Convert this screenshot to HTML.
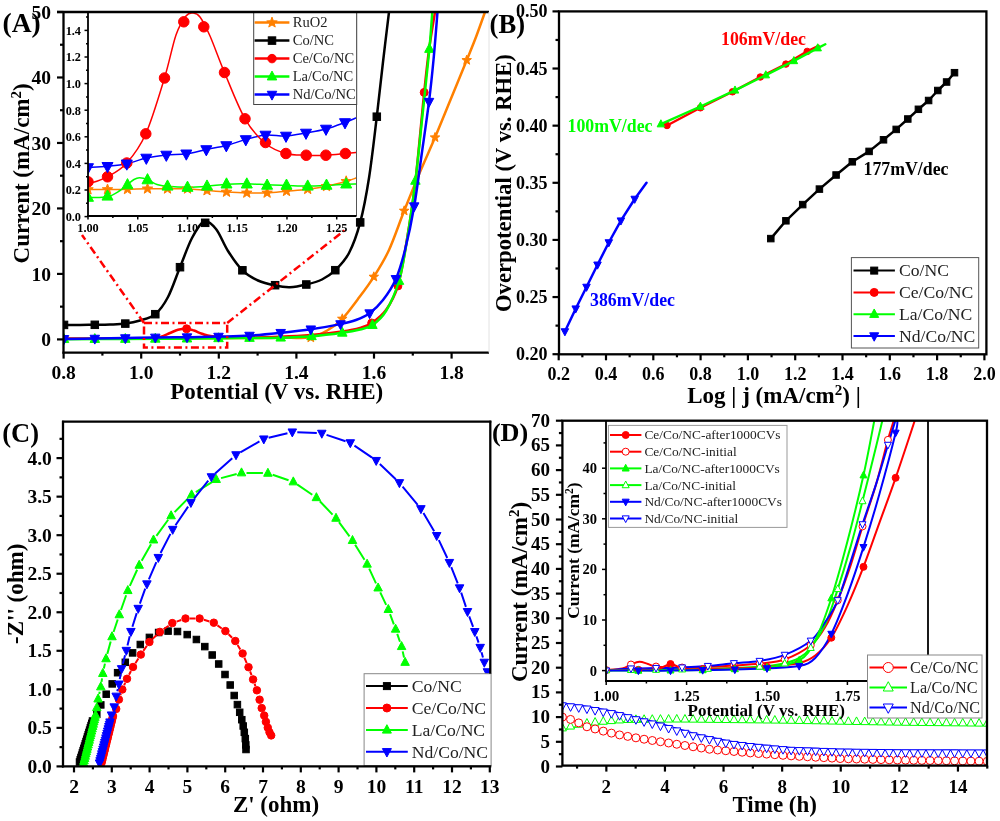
<!DOCTYPE html>
<html><head><meta charset="utf-8"><title>Figure</title>
<style>html,body{margin:0;padding:0;background:#fff;}svg{display:block;}</style>
</head><body>
<svg width="1000" height="821" viewBox="0 0 1000 821">
<rect width="1000" height="821" fill="#fff"/>
<defs><clipPath id="clipA"><rect x="63.5" y="12" width="425.5" height="340.6"/></clipPath>
<clipPath id="clipAi"><rect x="88" y="12" width="268" height="204"/></clipPath></defs>
<g clip-path="url(#clipA)">
<path d="M64,338.6 C73.33,338.57 100.67,338.47 120,338.4 C139.33,338.33 160,338.27 180,338.2 C200,338.13 223.33,338.07 240,338 C256.67,337.93 268.2,337.93 280,337.8 C291.8,337.67 302.8,338.5 310.8,337.2 C318.8,335.9 322.75,333.07 328,330 C333.25,326.93 337.3,323.97 342.3,318.8 C347.3,313.63 352.75,306 358,299 C363.25,292 368.63,284.97 373.8,276.8 C378.97,268.63 383.93,261 389,250 C394.07,239 399.03,223.8 404.2,210.8 C409.37,197.8 414.87,184.22 420,172 C425.13,159.78 430,149.33 435,137.5 C440,125.67 444.72,113.88 450,101 C455.28,88.12 462.37,70.87 466.7,60.2 C471.03,49.53 472.95,45.03 476,37 C479.05,28.97 483.5,16.17 485,12" fill="none" stroke="#ff8000" stroke-width="2.5" stroke-linejoin="round" stroke-linecap="round" />
<path d="M310.8,332.7 L312.03,336 L315.56,336.15 L312.8,338.35 L313.74,341.75 L310.8,339.8 L307.86,341.75 L308.8,338.35 L306.04,336.15 L309.57,336 Z" fill="#ff8000" stroke="#ff8000" stroke-width="1"/>
<path d="M342.3,313.8 L343.53,317.1 L347.06,317.25 L344.3,319.45 L345.24,322.85 L342.3,320.9 L339.36,322.85 L340.3,319.45 L337.54,317.25 L341.07,317.1 Z" fill="#ff8000" stroke="#ff8000" stroke-width="1"/>
<path d="M373.8,271.8 L375.03,275.1 L378.56,275.25 L375.8,277.45 L376.74,280.85 L373.8,278.9 L370.86,280.85 L371.8,277.45 L369.04,275.25 L372.57,275.1 Z" fill="#ff8000" stroke="#ff8000" stroke-width="1"/>
<path d="M404.2,205.8 L405.43,209.1 L408.96,209.25 L406.2,211.45 L407.14,214.85 L404.2,212.9 L401.26,214.85 L402.2,211.45 L399.44,209.25 L402.97,209.1 Z" fill="#ff8000" stroke="#ff8000" stroke-width="1"/>
<path d="M435,132.5 L436.23,135.8 L439.76,135.95 L437,138.15 L437.94,141.55 L435,139.6 L432.06,141.55 L433,138.15 L430.24,135.95 L433.77,135.8 Z" fill="#ff8000" stroke="#ff8000" stroke-width="1"/>
<path d="M466.7,55.2 L467.93,58.5 L471.46,58.65 L468.7,60.85 L469.64,64.25 L466.7,62.3 L463.76,64.25 L464.7,60.85 L461.94,58.65 L465.47,58.5 Z" fill="#ff8000" stroke="#ff8000" stroke-width="1"/>
<path d="M64,324.9 C66.67,324.9 74.87,324.92 80,324.9 C85.13,324.88 89.8,324.87 94.8,324.8 C99.8,324.73 104.92,324.7 110,324.5 C115.08,324.3 120.3,324.27 125.3,323.6 C130.3,322.93 135,322.07 140,320.5 C145,318.93 150.63,318.12 155.3,314.2 C159.97,310.28 163.88,304.83 168,297 C172.12,289.17 176,277.03 180,267.2 C184,257.37 188,245.62 192,238 C196,230.38 200,223 204,221.5 C208,220 212,224.08 216,229 C220,233.92 223.6,244.12 228,251 C232.4,257.88 237.4,265.38 242.4,270.3 C247.4,275.22 252.55,277.97 258,280.5 C263.45,283.03 269.77,284.38 275.1,285.5 C280.43,286.62 284.8,287.37 290,287.2 C295.2,287.03 300.97,285.78 306.3,284.5 C311.63,283.22 317.17,281.88 322,279.5 C326.83,277.12 330.8,274.62 335.3,270.2 C339.8,265.78 344.85,260.97 349,253 C353.15,245.03 356.87,234.9 360.2,222.4 C363.53,209.9 366.23,195.62 369,178 C371.77,160.38 374.47,136.03 376.8,116.7 C379.13,97.37 380.97,79.45 383,62 C385.03,44.55 388,20.33 389,12" fill="none" stroke="#000000" stroke-width="2.5" stroke-linejoin="round" stroke-linecap="round" />
<rect x="60.25" y="321.15" width="7.5" height="7.5" fill="#000000" stroke="#000000" stroke-width="1"/>
<rect x="91.05" y="321.05" width="7.5" height="7.5" fill="#000000" stroke="#000000" stroke-width="1"/>
<rect x="121.55" y="319.85" width="7.5" height="7.5" fill="#000000" stroke="#000000" stroke-width="1"/>
<rect x="151.55" y="310.45" width="7.5" height="7.5" fill="#000000" stroke="#000000" stroke-width="1"/>
<rect x="176.25" y="263.45" width="7.5" height="7.5" fill="#000000" stroke="#000000" stroke-width="1"/>
<rect x="201.45" y="219.05" width="7.5" height="7.5" fill="#000000" stroke="#000000" stroke-width="1"/>
<rect x="238.65" y="266.55" width="7.5" height="7.5" fill="#000000" stroke="#000000" stroke-width="1"/>
<rect x="271.35" y="281.45" width="7.5" height="7.5" fill="#000000" stroke="#000000" stroke-width="1"/>
<rect x="302.55" y="280.75" width="7.5" height="7.5" fill="#000000" stroke="#000000" stroke-width="1"/>
<rect x="331.55" y="266.45" width="7.5" height="7.5" fill="#000000" stroke="#000000" stroke-width="1"/>
<rect x="356.45" y="218.65" width="7.5" height="7.5" fill="#000000" stroke="#000000" stroke-width="1"/>
<rect x="373.05" y="112.95" width="7.5" height="7.5" fill="#000000" stroke="#000000" stroke-width="1"/>
<path d="M64,338.8 C73.33,338.77 105.67,338.68 120,338.6 C134.33,338.52 143.33,338.57 150,338.3 C156.67,338.03 156.67,337.88 160,337 C163.33,336.12 167,334.2 170,333 C173,331.8 175.23,330.5 178,329.8 C180.77,329.1 183.93,328.68 186.6,328.8 C189.27,328.92 191.43,329.67 194,330.5 C196.57,331.33 199,332.83 202,333.8 C205,334.77 205.67,335.68 212,336.3 C218.33,336.92 228.67,337.43 240,337.5 C251.33,337.57 268.17,337.12 280,336.7 C291.83,336.28 300.67,335.87 311,335 C321.33,334.13 333.83,332.67 342,331.5 C350.17,330.33 355.05,329.42 360,328 C364.95,326.58 367.37,326 371.7,323 C376.03,320 381.63,316.18 386,310 C390.37,303.82 394.57,296.73 397.9,285.9 C401.23,275.07 403.15,261.82 406,245 C408.85,228.18 411.97,210.43 415,185 C418.03,159.57 421.87,114.9 424.2,92.4 C426.53,69.9 427.2,63.4 429,50 C430.8,36.6 434,18.33 435,12" fill="none" stroke="#ff0000" stroke-width="2.5" stroke-linejoin="round" stroke-linecap="round" />
<circle cx="186.6" cy="328.8" r="4" fill="#ff0000" stroke="#ff0000" stroke-width="1"/>
<circle cx="371.7" cy="323" r="4" fill="#ff0000" stroke="#ff0000" stroke-width="1"/>
<circle cx="397.9" cy="285.9" r="4" fill="#ff0000" stroke="#ff0000" stroke-width="1"/>
<circle cx="424.2" cy="92.4" r="4" fill="#ff0000" stroke="#ff0000" stroke-width="1"/>
<path d="M64,339.2 C73.33,339.17 100.67,339.08 120,339 C139.33,338.92 160,338.87 180,338.7 C200,338.53 223.22,338.17 240,338 C256.78,337.83 268.78,337.98 280.7,337.7 C292.62,337.42 301.23,337.12 311.5,336.3 C321.77,335.48 334.22,333.93 342.3,332.8 C350.38,331.67 354.98,330.78 360,329.5 C365.02,328.22 368.07,328.18 372.4,325.1 C376.73,322.02 381.57,318.35 386,311 C390.43,303.65 395.5,292.83 399,281 C402.5,269.17 404.27,256.68 407,240 C409.73,223.32 412.82,201.73 415.4,180.9 C417.98,160.07 420.17,136.98 422.5,115 C424.83,93.02 427.77,66.17 429.4,49 C431.03,31.83 431.82,18.17 432.3,12" fill="none" stroke="#00ff00" stroke-width="2.5" stroke-linejoin="round" stroke-linecap="round" />
<path d="M64,333.69 L68.75,342.56 L59.25,342.56 Z" fill="#00ff00" stroke="#00ff00" stroke-width="1"/>
<path d="M94.8,333.59 L99.55,342.46 L90.05,342.46 Z" fill="#00ff00" stroke="#00ff00" stroke-width="1"/>
<path d="M125.3,333.49 L130.05,342.36 L120.55,342.36 Z" fill="#00ff00" stroke="#00ff00" stroke-width="1"/>
<path d="M155.3,333.29 L160.05,342.16 L150.55,342.16 Z" fill="#00ff00" stroke="#00ff00" stroke-width="1"/>
<path d="M187,333.09 L191.75,341.96 L182.25,341.96 Z" fill="#00ff00" stroke="#00ff00" stroke-width="1"/>
<path d="M218.5,332.79 L223.25,341.66 L213.75,341.66 Z" fill="#00ff00" stroke="#00ff00" stroke-width="1"/>
<path d="M249.5,332.49 L254.25,341.36 L244.75,341.36 Z" fill="#00ff00" stroke="#00ff00" stroke-width="1"/>
<path d="M280.7,332.19 L285.45,341.06 L275.95,341.06 Z" fill="#00ff00" stroke="#00ff00" stroke-width="1"/>
<path d="M311.5,330.79 L316.25,339.66 L306.75,339.66 Z" fill="#00ff00" stroke="#00ff00" stroke-width="1"/>
<path d="M342.3,327.29 L347.05,336.16 L337.55,336.16 Z" fill="#00ff00" stroke="#00ff00" stroke-width="1"/>
<path d="M372.4,319.59 L377.15,328.46 L367.65,328.46 Z" fill="#00ff00" stroke="#00ff00" stroke-width="1"/>
<path d="M399,275.49 L403.75,284.36 L394.25,284.36 Z" fill="#00ff00" stroke="#00ff00" stroke-width="1"/>
<path d="M415.4,175.39 L420.15,184.25 L410.65,184.25 Z" fill="#00ff00" stroke="#00ff00" stroke-width="1"/>
<path d="M429.4,43.49 L434.15,52.36 L424.65,52.36 Z" fill="#00ff00" stroke="#00ff00" stroke-width="1"/>
<path d="M64,338.9 C69.13,338.85 84.58,338.73 94.8,338.6 C105.02,338.47 115.22,338.28 125.3,338.1 C135.38,337.92 145.02,337.65 155.3,337.5 C165.58,337.35 176.47,337.35 187,337.2 C197.53,337.05 208.08,336.87 218.5,336.6 C228.92,336.33 239.13,336.23 249.5,335.6 C259.87,334.97 270.48,333.85 280.7,332.8 C290.92,331.75 300.83,330.75 310.8,329.3 C320.77,327.85 332.97,325.65 340.5,324.1 C348.03,322.55 351.15,321.82 356,320 C360.85,318.18 365.1,316.53 369.6,313.2 C374.1,309.87 378.62,305.72 383,300 C387.38,294.28 392.23,287.23 395.9,278.9 C399.57,270.57 401.95,262.12 405,250 C408.05,237.88 411.37,222.53 414.2,206.2 C417.03,189.87 419.53,169.42 422,152 C424.47,134.58 427.08,117.03 429,101.7 C430.92,86.37 432.08,74.95 433.5,60 C434.92,45.05 436.83,20 437.5,12" fill="none" stroke="#0000ff" stroke-width="2.5" stroke-linejoin="round" stroke-linecap="round" />
<path d="M64,344.41 L68.75,335.54 L59.25,335.54 Z" fill="#0000ff" stroke="#0000ff" stroke-width="1"/>
<path d="M94.8,344.11 L99.55,335.25 L90.05,335.25 Z" fill="#0000ff" stroke="#0000ff" stroke-width="1"/>
<path d="M125.3,343.61 L130.05,334.75 L120.55,334.75 Z" fill="#0000ff" stroke="#0000ff" stroke-width="1"/>
<path d="M155.3,343.01 L160.05,334.14 L150.55,334.14 Z" fill="#0000ff" stroke="#0000ff" stroke-width="1"/>
<path d="M187,342.71 L191.75,333.84 L182.25,333.84 Z" fill="#0000ff" stroke="#0000ff" stroke-width="1"/>
<path d="M218.5,342.11 L223.25,333.25 L213.75,333.25 Z" fill="#0000ff" stroke="#0000ff" stroke-width="1"/>
<path d="M249.5,341.11 L254.25,332.25 L244.75,332.25 Z" fill="#0000ff" stroke="#0000ff" stroke-width="1"/>
<path d="M280.7,338.31 L285.45,329.44 L275.95,329.44 Z" fill="#0000ff" stroke="#0000ff" stroke-width="1"/>
<path d="M310.8,334.81 L315.55,325.94 L306.05,325.94 Z" fill="#0000ff" stroke="#0000ff" stroke-width="1"/>
<path d="M340.5,329.61 L345.25,320.75 L335.75,320.75 Z" fill="#0000ff" stroke="#0000ff" stroke-width="1"/>
<path d="M369.6,318.71 L374.35,309.84 L364.85,309.84 Z" fill="#0000ff" stroke="#0000ff" stroke-width="1"/>
<path d="M395.9,284.41 L400.65,275.54 L391.15,275.54 Z" fill="#0000ff" stroke="#0000ff" stroke-width="1"/>
<path d="M414.2,211.71 L418.95,202.84 L409.45,202.84 Z" fill="#0000ff" stroke="#0000ff" stroke-width="1"/>
<path d="M429,107.21 L433.75,98.35 L424.25,98.35 Z" fill="#0000ff" stroke="#0000ff" stroke-width="1"/>
</g>
<path d="M144,323 L227.2,323 L227.2,347.5 L144,347.5 Z" fill="none" stroke="#ff0000" stroke-width="2.5" stroke-dasharray="8,3.5,2,3.5"/>
<path d="M144,323 L82,235" fill="none" stroke="#ff0000" stroke-width="2.5" stroke-dasharray="8,3.5,2,3.5"/>
<path d="M227.2,323 L345,230" fill="none" stroke="#ff0000" stroke-width="2.5" stroke-dasharray="8,3.5,2,3.5"/>
<rect x="88" y="12" width="268" height="204" fill="#fff"/>
<g clip-path="url(#clipAi)">
<path d="M88,189.5 C91.25,189.5 100.92,189.53 107.5,189.5 C114.08,189.47 120.83,189.42 127.5,189.3 C134.17,189.18 140.83,188.88 147.5,188.8 C154.17,188.72 160.83,188.8 167.5,188.8 C174.17,188.8 180.92,188.52 187.5,188.8 C194.08,189.08 200.5,189.97 207,190.5 C213.5,191.03 219.87,191.6 226.5,192 C233.13,192.4 240.03,192.75 246.8,192.9 C253.57,193.05 260.48,193.18 267.1,192.9 C273.72,192.62 279.73,191.82 286.5,191.2 C293.27,190.58 301.03,190.02 307.7,189.2 C314.37,188.38 320.08,187.62 326.5,186.3 C332.92,184.98 341.28,182.68 346.2,181.3 C351.12,179.92 354.37,178.55 356,178" fill="none" stroke="#ff8000" stroke-width="1.5" stroke-linejoin="round" stroke-linecap="round" />
<path d="M88,197.5 C91.25,197.38 102.17,197.97 107.5,196.8 C112.83,195.63 116.67,192.55 120,190.5 C123.33,188.45 125.17,186.33 127.5,184.5 C129.83,182.67 132,180.62 134,179.5 C136,178.38 137.25,177.8 139.5,177.8 C141.75,177.8 144.58,178.38 147.5,179.5 C150.42,180.62 153.67,183.37 157,184.5 C160.33,185.63 162.42,185.83 167.5,186.3 C172.58,186.77 180.92,187.3 187.5,187.3 C194.08,187.3 200.5,186.82 207,186.3 C213.5,185.78 219.87,184.62 226.5,184.2 C233.13,183.78 240.03,183.7 246.8,183.8 C253.57,183.9 260.48,184.53 267.1,184.8 C273.72,185.07 279.73,185.2 286.5,185.4 C293.27,185.6 301.03,186 307.7,186 C314.37,186 320.08,185.7 326.5,185.4 C332.92,185.1 341.28,184.43 346.2,184.2 C351.12,183.97 354.37,184.03 356,184" fill="none" stroke="#00ff00" stroke-width="1.5" stroke-linejoin="round" stroke-linecap="round" />
<path d="M88,167.5 C91.25,167.3 101.03,166.92 107.5,166.3 C113.97,165.68 120.33,165.18 126.8,163.8 C133.27,162.42 139.72,159.47 146.3,158 C152.88,156.53 159.63,155.7 166.3,155 C172.97,154.3 179.63,154.72 186.3,153.8 C192.97,152.88 199.63,150.88 206.3,149.5 C212.97,148.12 219.72,147.17 226.3,145.5 C232.88,143.83 239.27,141.25 245.8,139.5 C252.33,137.75 258.8,135.58 265.5,135 C272.2,134.42 279.25,136.33 286,136 C292.75,135.67 299.33,134.17 306,133 C312.67,131.83 319.5,130.75 326,129 C332.5,127.25 340,124.33 345,122.5 C350,120.67 354.17,118.75 356,118" fill="none" stroke="#0000ff" stroke-width="1.5" stroke-linejoin="round" stroke-linecap="round" />
<path d="M88,184 C91.25,182.8 101.03,180.3 107.5,176.8 C113.97,173.3 120.42,170.17 126.8,163 C133.18,155.83 139.52,147.97 145.8,133.8 C152.08,119.63 159.47,94.47 164.5,78 C169.53,61.53 172.42,45.33 176,35 C179.58,24.67 183.17,19.67 186,16 C188.83,12.33 190.67,12.83 193,13 C195.33,13.17 197.17,13.17 200,17 C202.83,20.83 205.92,26.75 210,36 C214.08,45.25 218.67,58.7 224.5,72.5 C230.33,86.3 238.17,106.97 245,118.8 C251.83,130.63 258.68,137.72 265.5,143.5 C272.32,149.28 279.12,151.55 285.9,153.5 C292.68,155.45 299.53,154.92 306.2,155.2 C312.87,155.48 319.37,155.48 325.9,155.2 C332.43,154.92 340.38,153.95 345.4,153.5 C350.42,153.05 354.23,152.67 356,152.5" fill="none" stroke="#ff0000" stroke-width="1.5" stroke-linejoin="round" stroke-linecap="round" />
<path d="M88,184 L89.36,187.63 L93.23,187.8 L90.2,190.21 L91.23,193.95 L88,191.81 L84.77,193.95 L85.8,190.21 L82.77,187.8 L86.64,187.63 Z" fill="#ff8000" stroke="#ff8000" stroke-width="1"/>
<path d="M107.5,184 L108.86,187.63 L112.73,187.8 L109.7,190.21 L110.73,193.95 L107.5,191.81 L104.27,193.95 L105.3,190.21 L102.27,187.8 L106.14,187.63 Z" fill="#ff8000" stroke="#ff8000" stroke-width="1"/>
<path d="M127.5,183.8 L128.86,187.43 L132.73,187.6 L129.7,190.01 L130.73,193.75 L127.5,191.61 L124.27,193.75 L125.3,190.01 L122.27,187.6 L126.14,187.43 Z" fill="#ff8000" stroke="#ff8000" stroke-width="1"/>
<path d="M147.5,183.3 L148.86,186.93 L152.73,187.1 L149.7,189.51 L150.73,193.25 L147.5,191.11 L144.27,193.25 L145.3,189.51 L142.27,187.1 L146.14,186.93 Z" fill="#ff8000" stroke="#ff8000" stroke-width="1"/>
<path d="M167.5,183.3 L168.86,186.93 L172.73,187.1 L169.7,189.51 L170.73,193.25 L167.5,191.11 L164.27,193.25 L165.3,189.51 L162.27,187.1 L166.14,186.93 Z" fill="#ff8000" stroke="#ff8000" stroke-width="1"/>
<path d="M187.5,183.3 L188.86,186.93 L192.73,187.1 L189.7,189.51 L190.73,193.25 L187.5,191.11 L184.27,193.25 L185.3,189.51 L182.27,187.1 L186.14,186.93 Z" fill="#ff8000" stroke="#ff8000" stroke-width="1"/>
<path d="M207,185 L208.36,188.63 L212.23,188.8 L209.2,191.21 L210.23,194.95 L207,192.81 L203.77,194.95 L204.8,191.21 L201.77,188.8 L205.64,188.63 Z" fill="#ff8000" stroke="#ff8000" stroke-width="1"/>
<path d="M226.5,186.5 L227.86,190.13 L231.73,190.3 L228.7,192.71 L229.73,196.45 L226.5,194.31 L223.27,196.45 L224.3,192.71 L221.27,190.3 L225.14,190.13 Z" fill="#ff8000" stroke="#ff8000" stroke-width="1"/>
<path d="M246.8,187.4 L248.16,191.03 L252.03,191.2 L249,193.61 L250.03,197.35 L246.8,195.21 L243.57,197.35 L244.6,193.61 L241.57,191.2 L245.44,191.03 Z" fill="#ff8000" stroke="#ff8000" stroke-width="1"/>
<path d="M267.1,187.4 L268.46,191.03 L272.33,191.2 L269.3,193.61 L270.33,197.35 L267.1,195.21 L263.87,197.35 L264.9,193.61 L261.87,191.2 L265.74,191.03 Z" fill="#ff8000" stroke="#ff8000" stroke-width="1"/>
<path d="M286.5,185.7 L287.86,189.33 L291.73,189.5 L288.7,191.91 L289.73,195.65 L286.5,193.51 L283.27,195.65 L284.3,191.91 L281.27,189.5 L285.14,189.33 Z" fill="#ff8000" stroke="#ff8000" stroke-width="1"/>
<path d="M307.7,183.7 L309.06,187.33 L312.93,187.5 L309.9,189.91 L310.93,193.65 L307.7,191.51 L304.47,193.65 L305.5,189.91 L302.47,187.5 L306.34,187.33 Z" fill="#ff8000" stroke="#ff8000" stroke-width="1"/>
<path d="M326.5,180.8 L327.86,184.43 L331.73,184.6 L328.7,187.01 L329.73,190.75 L326.5,188.61 L323.27,190.75 L324.3,187.01 L321.27,184.6 L325.14,184.43 Z" fill="#ff8000" stroke="#ff8000" stroke-width="1"/>
<path d="M346.2,175.8 L347.56,179.43 L351.43,179.6 L348.4,182.01 L349.43,185.75 L346.2,183.61 L342.97,185.75 L344,182.01 L340.97,179.6 L344.84,179.43 Z" fill="#ff8000" stroke="#ff8000" stroke-width="1"/>
<path d="M88,191.12 L93.5,201.29 L82.5,201.29 Z" fill="#00ff00" stroke="#00ff00" stroke-width="1"/>
<path d="M107.5,189.92 L113,200.09 L102,200.09 Z" fill="#00ff00" stroke="#00ff00" stroke-width="1"/>
<path d="M127.5,178.62 L133,188.79 L122,188.79 Z" fill="#00ff00" stroke="#00ff00" stroke-width="1"/>
<path d="M147.5,173.62 L153,183.79 L142,183.79 Z" fill="#00ff00" stroke="#00ff00" stroke-width="1"/>
<path d="M167.5,179.92 L173,190.09 L162,190.09 Z" fill="#00ff00" stroke="#00ff00" stroke-width="1"/>
<path d="M187.5,181.12 L193,191.29 L182,191.29 Z" fill="#00ff00" stroke="#00ff00" stroke-width="1"/>
<path d="M207,179.92 L212.5,190.09 L201.5,190.09 Z" fill="#00ff00" stroke="#00ff00" stroke-width="1"/>
<path d="M226.5,177.82 L232,187.99 L221,187.99 Z" fill="#00ff00" stroke="#00ff00" stroke-width="1"/>
<path d="M246.8,177.82 L252.3,187.99 L241.3,187.99 Z" fill="#00ff00" stroke="#00ff00" stroke-width="1"/>
<path d="M267.1,179.02 L272.6,189.19 L261.6,189.19 Z" fill="#00ff00" stroke="#00ff00" stroke-width="1"/>
<path d="M286.5,179.02 L292,189.19 L281,189.19 Z" fill="#00ff00" stroke="#00ff00" stroke-width="1"/>
<path d="M307.7,179.92 L313.2,190.09 L302.2,190.09 Z" fill="#00ff00" stroke="#00ff00" stroke-width="1"/>
<path d="M326.5,179.02 L332,189.19 L321,189.19 Z" fill="#00ff00" stroke="#00ff00" stroke-width="1"/>
<path d="M346.2,177.82 L351.7,187.99 L340.7,187.99 Z" fill="#00ff00" stroke="#00ff00" stroke-width="1"/>
<circle cx="88" cy="181.8" r="5.25" fill="#ff0000" stroke="#ff0000" stroke-width="1"/>
<circle cx="107.5" cy="176.8" r="5.25" fill="#ff0000" stroke="#ff0000" stroke-width="1"/>
<circle cx="126.8" cy="163" r="5.25" fill="#ff0000" stroke="#ff0000" stroke-width="1"/>
<circle cx="145.8" cy="133.8" r="5.25" fill="#ff0000" stroke="#ff0000" stroke-width="1"/>
<circle cx="164.5" cy="78" r="5.25" fill="#ff0000" stroke="#ff0000" stroke-width="1"/>
<circle cx="183.8" cy="21.8" r="5.25" fill="#ff0000" stroke="#ff0000" stroke-width="1"/>
<circle cx="203.8" cy="26.8" r="5.25" fill="#ff0000" stroke="#ff0000" stroke-width="1"/>
<circle cx="224.5" cy="72.5" r="5.25" fill="#ff0000" stroke="#ff0000" stroke-width="1"/>
<circle cx="245" cy="118.8" r="5.25" fill="#ff0000" stroke="#ff0000" stroke-width="1"/>
<circle cx="265.5" cy="142.5" r="5.25" fill="#ff0000" stroke="#ff0000" stroke-width="1"/>
<circle cx="285.9" cy="153.5" r="5.25" fill="#ff0000" stroke="#ff0000" stroke-width="1"/>
<circle cx="306.2" cy="155.2" r="5.25" fill="#ff0000" stroke="#ff0000" stroke-width="1"/>
<circle cx="325.9" cy="155.2" r="5.25" fill="#ff0000" stroke="#ff0000" stroke-width="1"/>
<circle cx="345.4" cy="153.5" r="5.25" fill="#ff0000" stroke="#ff0000" stroke-width="1"/>
<path d="M88,173.88 L93.5,163.71 L82.5,163.71 Z" fill="#0000ff" stroke="#0000ff" stroke-width="1"/>
<path d="M107.5,172.68 L113,162.51 L102,162.51 Z" fill="#0000ff" stroke="#0000ff" stroke-width="1"/>
<path d="M126.8,170.18 L132.3,160.01 L121.3,160.01 Z" fill="#0000ff" stroke="#0000ff" stroke-width="1"/>
<path d="M146.3,164.38 L151.8,154.21 L140.8,154.21 Z" fill="#0000ff" stroke="#0000ff" stroke-width="1"/>
<path d="M166.3,161.38 L171.8,151.21 L160.8,151.21 Z" fill="#0000ff" stroke="#0000ff" stroke-width="1"/>
<path d="M186.3,160.18 L191.8,150.01 L180.8,150.01 Z" fill="#0000ff" stroke="#0000ff" stroke-width="1"/>
<path d="M206.3,155.88 L211.8,145.71 L200.8,145.71 Z" fill="#0000ff" stroke="#0000ff" stroke-width="1"/>
<path d="M226.3,151.88 L231.8,141.71 L220.8,141.71 Z" fill="#0000ff" stroke="#0000ff" stroke-width="1"/>
<path d="M245.8,145.88 L251.3,135.71 L240.3,135.71 Z" fill="#0000ff" stroke="#0000ff" stroke-width="1"/>
<path d="M265.5,141.38 L271,131.21 L260,131.21 Z" fill="#0000ff" stroke="#0000ff" stroke-width="1"/>
<path d="M286,142.38 L291.5,132.21 L280.5,132.21 Z" fill="#0000ff" stroke="#0000ff" stroke-width="1"/>
<path d="M306,139.38 L311.5,129.21 L300.5,129.21 Z" fill="#0000ff" stroke="#0000ff" stroke-width="1"/>
<path d="M326,135.38 L331.5,125.21 L320.5,125.21 Z" fill="#0000ff" stroke="#0000ff" stroke-width="1"/>
<path d="M345,128.88 L350.5,118.71 L339.5,118.71 Z" fill="#0000ff" stroke="#0000ff" stroke-width="1"/>
</g>
<line x1="356.5" y1="12" x2="356.5" y2="216" stroke="#555" stroke-width="1" />
<line x1="88" y1="12" x2="88" y2="217" stroke="#000" stroke-width="1.8" />
<line x1="87" y1="216" x2="356.5" y2="216" stroke="#000" stroke-width="1.8" />
<line x1="88" y1="216.6" x2="84.5" y2="216.6" stroke="#000" stroke-width="1.5" />
<line x1="88" y1="190" x2="84.5" y2="190" stroke="#000" stroke-width="1.5" />
<line x1="88" y1="163.4" x2="84.5" y2="163.4" stroke="#000" stroke-width="1.5" />
<line x1="88" y1="136.8" x2="84.5" y2="136.8" stroke="#000" stroke-width="1.5" />
<line x1="88" y1="110.2" x2="84.5" y2="110.2" stroke="#000" stroke-width="1.5" />
<line x1="88" y1="83.6" x2="84.5" y2="83.6" stroke="#000" stroke-width="1.5" />
<line x1="88" y1="57" x2="84.5" y2="57" stroke="#000" stroke-width="1.5" />
<line x1="88" y1="30.4" x2="84.5" y2="30.4" stroke="#000" stroke-width="1.5" />
<line x1="88" y1="203.3" x2="86" y2="203.3" stroke="#000" stroke-width="1.5" />
<line x1="88" y1="176.7" x2="86" y2="176.7" stroke="#000" stroke-width="1.5" />
<line x1="88" y1="150.1" x2="86" y2="150.1" stroke="#000" stroke-width="1.5" />
<line x1="88" y1="123.5" x2="86" y2="123.5" stroke="#000" stroke-width="1.5" />
<line x1="88" y1="96.9" x2="86" y2="96.9" stroke="#000" stroke-width="1.5" />
<line x1="88" y1="70.3" x2="86" y2="70.3" stroke="#000" stroke-width="1.5" />
<line x1="88" y1="43.7" x2="86" y2="43.7" stroke="#000" stroke-width="1.5" />
<line x1="88" y1="17.1" x2="86" y2="17.1" stroke="#000" stroke-width="1.5" />
<line x1="88" y1="216" x2="88" y2="219.5" stroke="#000" stroke-width="1.5" />
<line x1="137.74" y1="216" x2="137.74" y2="219.5" stroke="#000" stroke-width="1.5" />
<line x1="187.48" y1="216" x2="187.48" y2="219.5" stroke="#000" stroke-width="1.5" />
<line x1="237.22" y1="216" x2="237.22" y2="219.5" stroke="#000" stroke-width="1.5" />
<line x1="286.96" y1="216" x2="286.96" y2="219.5" stroke="#000" stroke-width="1.5" />
<line x1="336.7" y1="216" x2="336.7" y2="219.5" stroke="#000" stroke-width="1.5" />
<line x1="112.87" y1="216" x2="112.87" y2="218" stroke="#000" stroke-width="1.5" />
<line x1="162.61" y1="216" x2="162.61" y2="218" stroke="#000" stroke-width="1.5" />
<line x1="212.35" y1="216" x2="212.35" y2="218" stroke="#000" stroke-width="1.5" />
<line x1="262.09" y1="216" x2="262.09" y2="218" stroke="#000" stroke-width="1.5" />
<line x1="311.83" y1="216" x2="311.83" y2="218" stroke="#000" stroke-width="1.5" />
<text x="81" y="220.9" font-family="'Liberation Serif','Times New Roman',serif" font-size="12.3" font-weight="bold" text-anchor="end" fill="#000" >0.0</text>
<text x="81" y="194.3" font-family="'Liberation Serif','Times New Roman',serif" font-size="12.3" font-weight="bold" text-anchor="end" fill="#000" >0.2</text>
<text x="81" y="167.7" font-family="'Liberation Serif','Times New Roman',serif" font-size="12.3" font-weight="bold" text-anchor="end" fill="#000" >0.4</text>
<text x="81" y="141.1" font-family="'Liberation Serif','Times New Roman',serif" font-size="12.3" font-weight="bold" text-anchor="end" fill="#000" >0.6</text>
<text x="81" y="114.5" font-family="'Liberation Serif','Times New Roman',serif" font-size="12.3" font-weight="bold" text-anchor="end" fill="#000" >0.8</text>
<text x="81" y="87.9" font-family="'Liberation Serif','Times New Roman',serif" font-size="12.3" font-weight="bold" text-anchor="end" fill="#000" >1.0</text>
<text x="81" y="61.3" font-family="'Liberation Serif','Times New Roman',serif" font-size="12.3" font-weight="bold" text-anchor="end" fill="#000" >1.2</text>
<text x="81" y="34.7" font-family="'Liberation Serif','Times New Roman',serif" font-size="12.3" font-weight="bold" text-anchor="end" fill="#000" >1.4</text>
<text x="88" y="232.3" font-family="'Liberation Serif','Times New Roman',serif" font-size="12.3" font-weight="bold" text-anchor="middle" fill="#000" >1.00</text>
<text x="137.74" y="232.3" font-family="'Liberation Serif','Times New Roman',serif" font-size="12.3" font-weight="bold" text-anchor="middle" fill="#000" >1.05</text>
<text x="187.48" y="232.3" font-family="'Liberation Serif','Times New Roman',serif" font-size="12.3" font-weight="bold" text-anchor="middle" fill="#000" >1.10</text>
<text x="237.22" y="232.3" font-family="'Liberation Serif','Times New Roman',serif" font-size="12.3" font-weight="bold" text-anchor="middle" fill="#000" >1.15</text>
<text x="286.96" y="232.3" font-family="'Liberation Serif','Times New Roman',serif" font-size="12.3" font-weight="bold" text-anchor="middle" fill="#000" >1.20</text>
<text x="336.7" y="232.3" font-family="'Liberation Serif','Times New Roman',serif" font-size="12.3" font-weight="bold" text-anchor="middle" fill="#000" >1.25</text>
<rect x="253.7" y="12" width="103" height="92.5" fill="#fff" stroke="#444" stroke-width="1"/>
<line x1="254.6" y1="22.6" x2="289.4" y2="22.6" stroke="#ff8000" stroke-width="2.5" />
<path d="M272,17.1 L273.36,20.73 L277.23,20.9 L274.2,23.31 L275.23,27.05 L272,24.91 L268.77,27.05 L269.8,23.31 L266.77,20.9 L270.64,20.73 Z" fill="#ff8000" stroke="#ff8000" stroke-width="1"/>
<text x="292.7" y="27.4" font-family="'Liberation Serif','Times New Roman',serif" font-size="14.55" font-weight="normal" text-anchor="start" fill="#222" >RuO2</text>
<line x1="254.6" y1="40.6" x2="289.4" y2="40.6" stroke="#000000" stroke-width="2.5" />
<rect x="268.25" y="36.85" width="7.5" height="7.5" fill="#000000" stroke="#000000" stroke-width="1"/>
<text x="292.7" y="45.4" font-family="'Liberation Serif','Times New Roman',serif" font-size="14.55" font-weight="normal" text-anchor="start" fill="#222" >Co/NC</text>
<line x1="254.6" y1="58.6" x2="289.4" y2="58.6" stroke="#ff0000" stroke-width="2.5" />
<circle cx="272" cy="58.6" r="4.25" fill="#ff0000" stroke="#ff0000" stroke-width="1"/>
<text x="292.7" y="63.4" font-family="'Liberation Serif','Times New Roman',serif" font-size="14.55" font-weight="normal" text-anchor="start" fill="#222" >Ce/Co/NC</text>
<line x1="254.6" y1="76.6" x2="289.4" y2="76.6" stroke="#00ff00" stroke-width="2.5" />
<path d="M272,71.09 L276.75,79.95 L267.25,79.95 Z" fill="#00ff00" stroke="#00ff00" stroke-width="1"/>
<text x="292.7" y="81.4" font-family="'Liberation Serif','Times New Roman',serif" font-size="14.55" font-weight="normal" text-anchor="start" fill="#222" >La/Co/NC</text>
<line x1="254.6" y1="94.6" x2="289.4" y2="94.6" stroke="#0000ff" stroke-width="2.5" />
<path d="M272,100.11 L276.75,91.25 L267.25,91.25 Z" fill="#0000ff" stroke="#0000ff" stroke-width="1"/>
<text x="292.7" y="99.4" font-family="'Liberation Serif','Times New Roman',serif" font-size="14.55" font-weight="normal" text-anchor="start" fill="#222" >Nd/Co/NC</text>
<line x1="57" y1="12" x2="489" y2="12" stroke="#000" stroke-width="2.3" />
<line x1="63.5" y1="11" x2="63.5" y2="353.6" stroke="#000" stroke-width="2.3" />
<line x1="62.5" y1="352.6" x2="489" y2="352.6" stroke="#000" stroke-width="2.3" />
<line x1="489" y1="12" x2="489" y2="352.6" stroke="#e2e2e2" stroke-width="1" />
<line x1="63.5" y1="339.4" x2="57" y2="339.4" stroke="#000" stroke-width="2.2" />
<line x1="63.5" y1="273.92" x2="57" y2="273.92" stroke="#000" stroke-width="2.2" />
<line x1="63.5" y1="208.44" x2="57" y2="208.44" stroke="#000" stroke-width="2.2" />
<line x1="63.5" y1="142.96" x2="57" y2="142.96" stroke="#000" stroke-width="2.2" />
<line x1="63.5" y1="77.48" x2="57" y2="77.48" stroke="#000" stroke-width="2.2" />
<line x1="63.5" y1="12" x2="57" y2="12" stroke="#000" stroke-width="2.2" />
<line x1="63.5" y1="306.66" x2="60" y2="306.66" stroke="#000" stroke-width="2.2" />
<line x1="63.5" y1="241.18" x2="60" y2="241.18" stroke="#000" stroke-width="2.2" />
<line x1="63.5" y1="175.7" x2="60" y2="175.7" stroke="#000" stroke-width="2.2" />
<line x1="63.5" y1="110.22" x2="60" y2="110.22" stroke="#000" stroke-width="2.2" />
<line x1="63.5" y1="44.74" x2="60" y2="44.74" stroke="#000" stroke-width="2.2" />
<line x1="63.6" y1="352.6" x2="63.6" y2="358.6" stroke="#000" stroke-width="2.2" />
<line x1="141.2" y1="352.6" x2="141.2" y2="358.6" stroke="#000" stroke-width="2.2" />
<line x1="218.8" y1="352.6" x2="218.8" y2="358.6" stroke="#000" stroke-width="2.2" />
<line x1="296.4" y1="352.6" x2="296.4" y2="358.6" stroke="#000" stroke-width="2.2" />
<line x1="374" y1="352.6" x2="374" y2="358.6" stroke="#000" stroke-width="2.2" />
<line x1="451.6" y1="352.6" x2="451.6" y2="358.6" stroke="#000" stroke-width="2.2" />
<line x1="102.4" y1="352.6" x2="102.4" y2="355.6" stroke="#000" stroke-width="2.2" />
<line x1="180" y1="352.6" x2="180" y2="355.6" stroke="#000" stroke-width="2.2" />
<line x1="257.6" y1="352.6" x2="257.6" y2="355.6" stroke="#000" stroke-width="2.2" />
<line x1="335.2" y1="352.6" x2="335.2" y2="355.6" stroke="#000" stroke-width="2.2" />
<line x1="412.8" y1="352.6" x2="412.8" y2="355.6" stroke="#000" stroke-width="2.2" />
<text x="51" y="346.1" font-family="'Liberation Serif','Times New Roman',serif" font-size="19.5" font-weight="bold" text-anchor="end" fill="#000" >0</text>
<text x="51" y="280.62" font-family="'Liberation Serif','Times New Roman',serif" font-size="19.5" font-weight="bold" text-anchor="end" fill="#000" >10</text>
<text x="51" y="215.14" font-family="'Liberation Serif','Times New Roman',serif" font-size="19.5" font-weight="bold" text-anchor="end" fill="#000" >20</text>
<text x="51" y="149.66" font-family="'Liberation Serif','Times New Roman',serif" font-size="19.5" font-weight="bold" text-anchor="end" fill="#000" >30</text>
<text x="51" y="84.18" font-family="'Liberation Serif','Times New Roman',serif" font-size="19.5" font-weight="bold" text-anchor="end" fill="#000" >40</text>
<text x="51" y="18.7" font-family="'Liberation Serif','Times New Roman',serif" font-size="19.5" font-weight="bold" text-anchor="end" fill="#000" >50</text>
<text x="63.6" y="379.3" font-family="'Liberation Serif','Times New Roman',serif" font-size="19.5" font-weight="bold" text-anchor="middle" fill="#000" >0.8</text>
<text x="141.2" y="379.3" font-family="'Liberation Serif','Times New Roman',serif" font-size="19.5" font-weight="bold" text-anchor="middle" fill="#000" >1.0</text>
<text x="218.8" y="379.3" font-family="'Liberation Serif','Times New Roman',serif" font-size="19.5" font-weight="bold" text-anchor="middle" fill="#000" >1.2</text>
<text x="296.4" y="379.3" font-family="'Liberation Serif','Times New Roman',serif" font-size="19.5" font-weight="bold" text-anchor="middle" fill="#000" >1.4</text>
<text x="374" y="379.3" font-family="'Liberation Serif','Times New Roman',serif" font-size="19.5" font-weight="bold" text-anchor="middle" fill="#000" >1.6</text>
<text x="451.6" y="379.3" font-family="'Liberation Serif','Times New Roman',serif" font-size="19.5" font-weight="bold" text-anchor="middle" fill="#000" >1.8</text>
<text x="276.75" y="398.5" font-family="'Liberation Serif','Times New Roman',serif" font-size="23" font-weight="bold" text-anchor="middle" fill="#000" >Potential (V vs. RHE)</text>
<text transform="translate(29,173.4) rotate(-90)" font-family="'Liberation Serif','Times New Roman',serif" font-size="23" font-weight="bold" text-anchor="middle" fill="#000">Current (mA/cm<tspan baseline-shift="super" font-size="15">2</tspan>)</text>
<text x="2.5" y="32" font-family="'Liberation Serif','Times New Roman',serif" font-size="27.5" font-weight="bold" text-anchor="start" fill="#000" >(A)</text>
<path d="M770.8,238.6 L785.9,220.8 L802.7,204.6 L819.4,189.1 L836.1,175 L852.3,161.8 L869.1,151.4 L883.5,139.8 L896.2,129.4 L907.8,119 L918.4,109.3 L928.6,100.5 L937.8,90.5 L946.6,82 L954.5,72.7" fill="none" stroke="#000000" stroke-width="2.5" stroke-linejoin="round" stroke-linecap="round" />
<rect x="767.55" y="235.35" width="6.5" height="6.5" fill="#000000" stroke="#000000" stroke-width="1"/>
<rect x="782.65" y="217.55" width="6.5" height="6.5" fill="#000000" stroke="#000000" stroke-width="1"/>
<rect x="799.45" y="201.35" width="6.5" height="6.5" fill="#000000" stroke="#000000" stroke-width="1"/>
<rect x="816.15" y="185.85" width="6.5" height="6.5" fill="#000000" stroke="#000000" stroke-width="1"/>
<rect x="832.85" y="171.75" width="6.5" height="6.5" fill="#000000" stroke="#000000" stroke-width="1"/>
<rect x="849.05" y="158.55" width="6.5" height="6.5" fill="#000000" stroke="#000000" stroke-width="1"/>
<rect x="865.85" y="148.15" width="6.5" height="6.5" fill="#000000" stroke="#000000" stroke-width="1"/>
<rect x="880.25" y="136.55" width="6.5" height="6.5" fill="#000000" stroke="#000000" stroke-width="1"/>
<rect x="892.95" y="126.15" width="6.5" height="6.5" fill="#000000" stroke="#000000" stroke-width="1"/>
<rect x="904.55" y="115.75" width="6.5" height="6.5" fill="#000000" stroke="#000000" stroke-width="1"/>
<rect x="915.15" y="106.05" width="6.5" height="6.5" fill="#000000" stroke="#000000" stroke-width="1"/>
<rect x="925.35" y="97.25" width="6.5" height="6.5" fill="#000000" stroke="#000000" stroke-width="1"/>
<rect x="934.55" y="87.25" width="6.5" height="6.5" fill="#000000" stroke="#000000" stroke-width="1"/>
<rect x="943.35" y="78.75" width="6.5" height="6.5" fill="#000000" stroke="#000000" stroke-width="1"/>
<rect x="951.25" y="69.45" width="6.5" height="6.5" fill="#000000" stroke="#000000" stroke-width="1"/>
<path d="M667,125.5 L700.4,107.8 L732.5,91.8 L760.3,77 L785.9,64.1 L807.2,51.4 L818.6,45.7" fill="none" stroke="#ff0000" stroke-width="2.4" stroke-linejoin="round" stroke-linecap="round" />
<circle cx="667" cy="125.5" r="3.25" fill="#ff0000" stroke="#ff0000" stroke-width="1"/>
<circle cx="700.4" cy="107.8" r="3.25" fill="#ff0000" stroke="#ff0000" stroke-width="1"/>
<circle cx="732.5" cy="91.8" r="3.25" fill="#ff0000" stroke="#ff0000" stroke-width="1"/>
<circle cx="760.3" cy="77" r="3.25" fill="#ff0000" stroke="#ff0000" stroke-width="1"/>
<circle cx="785.9" cy="64.1" r="3.25" fill="#ff0000" stroke="#ff0000" stroke-width="1"/>
<circle cx="807.2" cy="51.4" r="3.25" fill="#ff0000" stroke="#ff0000" stroke-width="1"/>
<path d="M660.9,124.1 L700.4,106.5 L735,90.3 L765.8,75.1 L793.9,60.9 L817.7,48.1 L825.3,44.3" fill="none" stroke="#00ff00" stroke-width="2.4" stroke-linejoin="round" stroke-linecap="round" />
<path d="M660.9,119.75 L664.65,126.87 L657.15,126.87 Z" fill="#00ff00" stroke="#00ff00" stroke-width="1"/>
<path d="M700.4,102.15 L704.15,109.27 L696.65,109.27 Z" fill="#00ff00" stroke="#00ff00" stroke-width="1"/>
<path d="M735,85.95 L738.75,93.07 L731.25,93.07 Z" fill="#00ff00" stroke="#00ff00" stroke-width="1"/>
<path d="M765.8,70.75 L769.55,77.87 L762.05,77.87 Z" fill="#00ff00" stroke="#00ff00" stroke-width="1"/>
<path d="M793.9,56.55 L797.65,63.67 L790.15,63.67 Z" fill="#00ff00" stroke="#00ff00" stroke-width="1"/>
<path d="M817.7,43.75 L821.45,50.88 L813.95,50.88 Z" fill="#00ff00" stroke="#00ff00" stroke-width="1"/>
<path d="M564.9,331.5 L575.7,308.7 L586.5,287 L597.5,264.8 L608.8,242.5 L620.9,220.7 L634.7,199 L646.5,182.8" fill="none" stroke="#0000ff" stroke-width="2.5" stroke-linejoin="round" stroke-linecap="round" />
<path d="M564.9,335.85 L568.65,328.72 L561.15,328.72 Z" fill="#0000ff" stroke="#0000ff" stroke-width="1"/>
<path d="M575.7,313.05 L579.45,305.92 L571.95,305.92 Z" fill="#0000ff" stroke="#0000ff" stroke-width="1"/>
<path d="M586.5,291.35 L590.25,284.22 L582.75,284.22 Z" fill="#0000ff" stroke="#0000ff" stroke-width="1"/>
<path d="M597.5,269.15 L601.25,262.02 L593.75,262.02 Z" fill="#0000ff" stroke="#0000ff" stroke-width="1"/>
<path d="M608.8,246.85 L612.55,239.72 L605.05,239.72 Z" fill="#0000ff" stroke="#0000ff" stroke-width="1"/>
<path d="M620.9,225.05 L624.65,217.92 L617.15,217.92 Z" fill="#0000ff" stroke="#0000ff" stroke-width="1"/>
<path d="M634.7,203.35 L638.45,196.22 L630.95,196.22 Z" fill="#0000ff" stroke="#0000ff" stroke-width="1"/>
<text x="721" y="44.7" font-family="'Liberation Serif','Times New Roman',serif" font-size="17.8" font-weight="bold" text-anchor="start" fill="#ff0000" >106mV/dec</text>
<text x="567.5" y="131.9" font-family="'Liberation Serif','Times New Roman',serif" font-size="17.8" font-weight="bold" text-anchor="start" fill="#00ff00" >100mV/dec</text>
<text x="863.5" y="174.5" font-family="'Liberation Serif','Times New Roman',serif" font-size="17.8" font-weight="bold" text-anchor="start" fill="#000000" >177mV/dec</text>
<text x="590" y="305.6" font-family="'Liberation Serif','Times New Roman',serif" font-size="17.8" font-weight="bold" text-anchor="start" fill="#0000ff" >386mV/dec</text>
<rect x="851.4" y="257.6" width="127.3" height="90.4" fill="#fff" stroke="#555" stroke-width="1"/>
<line x1="853.5" y1="270.6" x2="894.9" y2="270.6" stroke="#000000" stroke-width="2" />
<rect x="870.7" y="267.1" width="7" height="7" fill="#000000" stroke="#000000" stroke-width="1"/>
<text x="899" y="276.41" font-family="'Liberation Serif','Times New Roman',serif" font-size="17.6" font-weight="normal" text-anchor="start" fill="#222" >Co/NC</text>
<line x1="853.5" y1="292.4" x2="894.9" y2="292.4" stroke="#ff0000" stroke-width="2" />
<circle cx="874.2" cy="292.4" r="4" fill="#ff0000" stroke="#ff0000" stroke-width="1"/>
<text x="899" y="298.21" font-family="'Liberation Serif','Times New Roman',serif" font-size="17.6" font-weight="normal" text-anchor="start" fill="#222" >Ce/Co/NC</text>
<line x1="853.5" y1="314.2" x2="894.9" y2="314.2" stroke="#00ff00" stroke-width="2" />
<path d="M874.2,308.98 L878.7,317.41 L869.7,317.41 Z" fill="#00ff00" stroke="#00ff00" stroke-width="1"/>
<text x="899" y="320.01" font-family="'Liberation Serif','Times New Roman',serif" font-size="17.6" font-weight="normal" text-anchor="start" fill="#222" >La/Co/NC</text>
<line x1="853.5" y1="336" x2="894.9" y2="336" stroke="#0000ff" stroke-width="2" />
<path d="M874.2,341.22 L878.7,332.79 L869.7,332.79 Z" fill="#0000ff" stroke="#0000ff" stroke-width="1"/>
<text x="899" y="341.81" font-family="'Liberation Serif','Times New Roman',serif" font-size="17.6" font-weight="normal" text-anchor="start" fill="#222" >Nd/Co/NC</text>
<rect x="559" y="11.4" width="427.4" height="342.9" fill="none" stroke="#000" stroke-width="2.3"/>
<line x1="559" y1="354.2" x2="552.5" y2="354.2" stroke="#000" stroke-width="2.2" />
<line x1="559" y1="297.06" x2="552.5" y2="297.06" stroke="#000" stroke-width="2.2" />
<line x1="559" y1="239.93" x2="552.5" y2="239.93" stroke="#000" stroke-width="2.2" />
<line x1="559" y1="182.8" x2="552.5" y2="182.8" stroke="#000" stroke-width="2.2" />
<line x1="559" y1="125.66" x2="552.5" y2="125.66" stroke="#000" stroke-width="2.2" />
<line x1="559" y1="68.52" x2="552.5" y2="68.52" stroke="#000" stroke-width="2.2" />
<line x1="559" y1="11.39" x2="552.5" y2="11.39" stroke="#000" stroke-width="2.2" />
<line x1="559" y1="325.63" x2="555.5" y2="325.63" stroke="#000" stroke-width="2.2" />
<line x1="559" y1="268.5" x2="555.5" y2="268.5" stroke="#000" stroke-width="2.2" />
<line x1="559" y1="211.36" x2="555.5" y2="211.36" stroke="#000" stroke-width="2.2" />
<line x1="559" y1="154.23" x2="555.5" y2="154.23" stroke="#000" stroke-width="2.2" />
<line x1="559" y1="97.09" x2="555.5" y2="97.09" stroke="#000" stroke-width="2.2" />
<line x1="559" y1="39.96" x2="555.5" y2="39.96" stroke="#000" stroke-width="2.2" />
<line x1="558.7" y1="354.3" x2="558.7" y2="360.3" stroke="#000" stroke-width="2.2" />
<line x1="606" y1="354.3" x2="606" y2="360.3" stroke="#000" stroke-width="2.2" />
<line x1="653.3" y1="354.3" x2="653.3" y2="360.3" stroke="#000" stroke-width="2.2" />
<line x1="700.6" y1="354.3" x2="700.6" y2="360.3" stroke="#000" stroke-width="2.2" />
<line x1="747.9" y1="354.3" x2="747.9" y2="360.3" stroke="#000" stroke-width="2.2" />
<line x1="795.2" y1="354.3" x2="795.2" y2="360.3" stroke="#000" stroke-width="2.2" />
<line x1="842.5" y1="354.3" x2="842.5" y2="360.3" stroke="#000" stroke-width="2.2" />
<line x1="889.8" y1="354.3" x2="889.8" y2="360.3" stroke="#000" stroke-width="2.2" />
<line x1="937.1" y1="354.3" x2="937.1" y2="360.3" stroke="#000" stroke-width="2.2" />
<line x1="984.4" y1="354.3" x2="984.4" y2="360.3" stroke="#000" stroke-width="2.2" />
<line x1="582.35" y1="354.3" x2="582.35" y2="357.3" stroke="#000" stroke-width="2.2" />
<line x1="629.65" y1="354.3" x2="629.65" y2="357.3" stroke="#000" stroke-width="2.2" />
<line x1="676.95" y1="354.3" x2="676.95" y2="357.3" stroke="#000" stroke-width="2.2" />
<line x1="724.25" y1="354.3" x2="724.25" y2="357.3" stroke="#000" stroke-width="2.2" />
<line x1="771.55" y1="354.3" x2="771.55" y2="357.3" stroke="#000" stroke-width="2.2" />
<line x1="818.85" y1="354.3" x2="818.85" y2="357.3" stroke="#000" stroke-width="2.2" />
<line x1="866.15" y1="354.3" x2="866.15" y2="357.3" stroke="#000" stroke-width="2.2" />
<line x1="913.45" y1="354.3" x2="913.45" y2="357.3" stroke="#000" stroke-width="2.2" />
<line x1="960.75" y1="354.3" x2="960.75" y2="357.3" stroke="#000" stroke-width="2.2" />
<text x="547.5" y="360.2" font-family="'Liberation Serif','Times New Roman',serif" font-size="18" font-weight="bold" text-anchor="end" fill="#000" >0.20</text>
<text x="547.5" y="303.06" font-family="'Liberation Serif','Times New Roman',serif" font-size="18" font-weight="bold" text-anchor="end" fill="#000" >0.25</text>
<text x="547.5" y="245.93" font-family="'Liberation Serif','Times New Roman',serif" font-size="18" font-weight="bold" text-anchor="end" fill="#000" >0.30</text>
<text x="547.5" y="188.8" font-family="'Liberation Serif','Times New Roman',serif" font-size="18" font-weight="bold" text-anchor="end" fill="#000" >0.35</text>
<text x="547.5" y="131.66" font-family="'Liberation Serif','Times New Roman',serif" font-size="18" font-weight="bold" text-anchor="end" fill="#000" >0.40</text>
<text x="547.5" y="74.52" font-family="'Liberation Serif','Times New Roman',serif" font-size="18" font-weight="bold" text-anchor="end" fill="#000" >0.45</text>
<text x="547.5" y="17.39" font-family="'Liberation Serif','Times New Roman',serif" font-size="18" font-weight="bold" text-anchor="end" fill="#000" >0.50</text>
<text x="558.7" y="380" font-family="'Liberation Serif','Times New Roman',serif" font-size="18" font-weight="bold" text-anchor="middle" fill="#000" >0.2</text>
<text x="606" y="380" font-family="'Liberation Serif','Times New Roman',serif" font-size="18" font-weight="bold" text-anchor="middle" fill="#000" >0.4</text>
<text x="653.3" y="380" font-family="'Liberation Serif','Times New Roman',serif" font-size="18" font-weight="bold" text-anchor="middle" fill="#000" >0.6</text>
<text x="700.6" y="380" font-family="'Liberation Serif','Times New Roman',serif" font-size="18" font-weight="bold" text-anchor="middle" fill="#000" >0.8</text>
<text x="747.9" y="380" font-family="'Liberation Serif','Times New Roman',serif" font-size="18" font-weight="bold" text-anchor="middle" fill="#000" >1.0</text>
<text x="795.2" y="380" font-family="'Liberation Serif','Times New Roman',serif" font-size="18" font-weight="bold" text-anchor="middle" fill="#000" >1.2</text>
<text x="842.5" y="380" font-family="'Liberation Serif','Times New Roman',serif" font-size="18" font-weight="bold" text-anchor="middle" fill="#000" >1.4</text>
<text x="889.8" y="380" font-family="'Liberation Serif','Times New Roman',serif" font-size="18" font-weight="bold" text-anchor="middle" fill="#000" >1.6</text>
<text x="937.1" y="380" font-family="'Liberation Serif','Times New Roman',serif" font-size="18" font-weight="bold" text-anchor="middle" fill="#000" >1.8</text>
<text x="984.4" y="380" font-family="'Liberation Serif','Times New Roman',serif" font-size="18" font-weight="bold" text-anchor="middle" fill="#000" >2.0</text>
<text x="774" y="403" font-family="'Liberation Serif','Times New Roman',serif" font-size="23" font-weight="bold" text-anchor="middle" fill="#000" >Log | j (mA/cm<tspan baseline-shift="super" font-size="15">2</tspan>) |</text>
<text transform="translate(511.3,183.1) rotate(-90)" font-family="'Liberation Serif','Times New Roman',serif" font-size="22.7" font-weight="bold" text-anchor="middle" fill="#000">Overpotential (V vs. RHE)</text>
<text x="489.6" y="32.7" font-family="'Liberation Serif','Times New Roman',serif" font-size="26.6" font-weight="bold" text-anchor="start" fill="#000" >(B)</text>
<defs><clipPath id="clipC"><rect x="63" y="421.7" width="427.3" height="344.7"/></clipPath></defs>
<g clip-path="url(#clipC)">
<rect x="76.25" y="758.75" width="6.5" height="6.5" fill="#000000" stroke="#000000" stroke-width="1"/>
<rect x="76.97" y="756.47" width="6.5" height="6.5" fill="#000000" stroke="#000000" stroke-width="1"/>
<rect x="77.69" y="754.19" width="6.5" height="6.5" fill="#000000" stroke="#000000" stroke-width="1"/>
<rect x="78.42" y="751.92" width="6.5" height="6.5" fill="#000000" stroke="#000000" stroke-width="1"/>
<rect x="79.14" y="749.64" width="6.5" height="6.5" fill="#000000" stroke="#000000" stroke-width="1"/>
<rect x="79.86" y="747.36" width="6.5" height="6.5" fill="#000000" stroke="#000000" stroke-width="1"/>
<rect x="80.58" y="745.08" width="6.5" height="6.5" fill="#000000" stroke="#000000" stroke-width="1"/>
<rect x="81.31" y="742.81" width="6.5" height="6.5" fill="#000000" stroke="#000000" stroke-width="1"/>
<rect x="82.03" y="740.53" width="6.5" height="6.5" fill="#000000" stroke="#000000" stroke-width="1"/>
<rect x="82.75" y="738.25" width="6.5" height="6.5" fill="#000000" stroke="#000000" stroke-width="1"/>
<rect x="83.47" y="735.97" width="6.5" height="6.5" fill="#000000" stroke="#000000" stroke-width="1"/>
<rect x="84.19" y="733.69" width="6.5" height="6.5" fill="#000000" stroke="#000000" stroke-width="1"/>
<rect x="84.92" y="731.42" width="6.5" height="6.5" fill="#000000" stroke="#000000" stroke-width="1"/>
<rect x="85.64" y="729.14" width="6.5" height="6.5" fill="#000000" stroke="#000000" stroke-width="1"/>
<rect x="86.36" y="726.86" width="6.5" height="6.5" fill="#000000" stroke="#000000" stroke-width="1"/>
<rect x="87.08" y="724.58" width="6.5" height="6.5" fill="#000000" stroke="#000000" stroke-width="1"/>
<rect x="87.81" y="722.31" width="6.5" height="6.5" fill="#000000" stroke="#000000" stroke-width="1"/>
<rect x="88.53" y="720.03" width="6.5" height="6.5" fill="#000000" stroke="#000000" stroke-width="1"/>
<rect x="89.25" y="717.75" width="6.5" height="6.5" fill="#000000" stroke="#000000" stroke-width="1"/>
<rect x="93.55" y="711.05" width="6.5" height="6.5" fill="#000000" stroke="#000000" stroke-width="1"/>
<rect x="97.55" y="701.65" width="6.5" height="6.5" fill="#000000" stroke="#000000" stroke-width="1"/>
<rect x="102.95" y="690.95" width="6.5" height="6.5" fill="#000000" stroke="#000000" stroke-width="1"/>
<rect x="108.95" y="680.65" width="6.5" height="6.5" fill="#000000" stroke="#000000" stroke-width="1"/>
<rect x="114.35" y="669.45" width="6.5" height="6.5" fill="#000000" stroke="#000000" stroke-width="1"/>
<rect x="122.05" y="659.05" width="6.5" height="6.5" fill="#000000" stroke="#000000" stroke-width="1"/>
<rect x="129.35" y="649.65" width="6.5" height="6.5" fill="#000000" stroke="#000000" stroke-width="1"/>
<rect x="137.05" y="641.25" width="6.5" height="6.5" fill="#000000" stroke="#000000" stroke-width="1"/>
<rect x="146.15" y="634.15" width="6.5" height="6.5" fill="#000000" stroke="#000000" stroke-width="1"/>
<rect x="155.35" y="629.25" width="6.5" height="6.5" fill="#000000" stroke="#000000" stroke-width="1"/>
<rect x="164.85" y="627.85" width="6.5" height="6.5" fill="#000000" stroke="#000000" stroke-width="1"/>
<rect x="174.25" y="628.25" width="6.5" height="6.5" fill="#000000" stroke="#000000" stroke-width="1"/>
<rect x="183.95" y="631.35" width="6.5" height="6.5" fill="#000000" stroke="#000000" stroke-width="1"/>
<rect x="193.15" y="636.25" width="6.5" height="6.5" fill="#000000" stroke="#000000" stroke-width="1"/>
<rect x="201.55" y="643.35" width="6.5" height="6.5" fill="#000000" stroke="#000000" stroke-width="1"/>
<rect x="208.95" y="651.75" width="6.5" height="6.5" fill="#000000" stroke="#000000" stroke-width="1"/>
<rect x="215.45" y="660.75" width="6.5" height="6.5" fill="#000000" stroke="#000000" stroke-width="1"/>
<rect x="221.75" y="671.25" width="6.5" height="6.5" fill="#000000" stroke="#000000" stroke-width="1"/>
<rect x="226.95" y="681.75" width="6.5" height="6.5" fill="#000000" stroke="#000000" stroke-width="1"/>
<rect x="230.95" y="692.25" width="6.5" height="6.5" fill="#000000" stroke="#000000" stroke-width="1"/>
<rect x="234.15" y="701.35" width="6.5" height="6.5" fill="#000000" stroke="#000000" stroke-width="1"/>
<rect x="236.45" y="709.05" width="6.5" height="6.5" fill="#000000" stroke="#000000" stroke-width="1"/>
<rect x="238.55" y="716.45" width="6.5" height="6.5" fill="#000000" stroke="#000000" stroke-width="1"/>
<rect x="239.95" y="722.75" width="6.5" height="6.5" fill="#000000" stroke="#000000" stroke-width="1"/>
<rect x="241.05" y="729.05" width="6.5" height="6.5" fill="#000000" stroke="#000000" stroke-width="1"/>
<rect x="242.05" y="735.35" width="6.5" height="6.5" fill="#000000" stroke="#000000" stroke-width="1"/>
<rect x="242.55" y="741.65" width="6.5" height="6.5" fill="#000000" stroke="#000000" stroke-width="1"/>
<rect x="242.75" y="746.25" width="6.5" height="6.5" fill="#000000" stroke="#000000" stroke-width="1"/>
<path d="M99.19,694.02 L99.71,691.68 M101.54,681.85 L102.06,678.35 M103.86,668.51 L104.94,663.59 M107.32,653.88 L110.68,641.52 M113.57,631.95 L117.73,619.45 M120.96,609.98 L126.14,595.22 M129.85,585.94 L137.15,569.76 M141.66,560.85 L151.04,544.25 M156.44,535.86 L168.16,519.74 M174.6,512.13 L188.1,498.37 M195.84,492.15 L211.96,482.05 M221.04,478.14 L236.66,474.06 M246.5,472.88 L262.9,473.12 M272.64,474.8 L288.56,480.2 M297.43,484.62 L312.27,494.78 M319.85,501.22 L332.55,514.58 M338.98,522.21 L349.52,536.39 M355.12,544.66 L364.48,559.84 M369.2,568.64 L376,583.36 M380.24,592.42 L386.16,604.88 M390.04,614.09 L393.86,624.41 M397.23,633.83 L399.97,641.77 M402.68,651.38 L404.02,657.42" fill="none" stroke="#00ff00" stroke-width="2"/>
<path d="M83.5,758.07 L87.75,766.07 L79.25,766.07 Z" fill="#00ff00" stroke="#00ff00" stroke-width="1"/>
<path d="M84.07,755.78 L88.32,763.78 L79.82,763.78 Z" fill="#00ff00" stroke="#00ff00" stroke-width="1"/>
<path d="M84.64,753.5 L88.89,761.49 L80.39,761.49 Z" fill="#00ff00" stroke="#00ff00" stroke-width="1"/>
<path d="M85.21,751.21 L89.46,759.21 L80.96,759.21 Z" fill="#00ff00" stroke="#00ff00" stroke-width="1"/>
<path d="M85.79,748.93 L90.04,756.92 L81.54,756.92 Z" fill="#00ff00" stroke="#00ff00" stroke-width="1"/>
<path d="M86.36,746.64 L90.61,754.64 L82.11,754.64 Z" fill="#00ff00" stroke="#00ff00" stroke-width="1"/>
<path d="M86.93,744.36 L91.18,752.35 L82.68,752.35 Z" fill="#00ff00" stroke="#00ff00" stroke-width="1"/>
<path d="M87.5,742.07 L91.75,750.07 L83.25,750.07 Z" fill="#00ff00" stroke="#00ff00" stroke-width="1"/>
<path d="M88.07,739.78 L92.32,747.78 L83.82,747.78 Z" fill="#00ff00" stroke="#00ff00" stroke-width="1"/>
<path d="M88.64,737.5 L92.89,745.49 L84.39,745.49 Z" fill="#00ff00" stroke="#00ff00" stroke-width="1"/>
<path d="M89.21,735.21 L93.46,743.21 L84.96,743.21 Z" fill="#00ff00" stroke="#00ff00" stroke-width="1"/>
<path d="M89.79,732.93 L94.04,740.92 L85.54,740.92 Z" fill="#00ff00" stroke="#00ff00" stroke-width="1"/>
<path d="M90.36,730.64 L94.61,738.64 L86.11,738.64 Z" fill="#00ff00" stroke="#00ff00" stroke-width="1"/>
<path d="M90.93,728.36 L95.18,736.35 L86.68,736.35 Z" fill="#00ff00" stroke="#00ff00" stroke-width="1"/>
<path d="M91.5,726.07 L95.75,734.07 L87.25,734.07 Z" fill="#00ff00" stroke="#00ff00" stroke-width="1"/>
<path d="M92.07,723.78 L96.32,731.78 L87.82,731.78 Z" fill="#00ff00" stroke="#00ff00" stroke-width="1"/>
<path d="M92.64,721.5 L96.89,729.49 L88.39,729.49 Z" fill="#00ff00" stroke="#00ff00" stroke-width="1"/>
<path d="M93.21,719.21 L97.46,727.21 L88.96,727.21 Z" fill="#00ff00" stroke="#00ff00" stroke-width="1"/>
<path d="M93.79,716.93 L98.04,724.92 L89.54,724.92 Z" fill="#00ff00" stroke="#00ff00" stroke-width="1"/>
<path d="M94.36,714.64 L98.61,722.64 L90.11,722.64 Z" fill="#00ff00" stroke="#00ff00" stroke-width="1"/>
<path d="M94.93,712.36 L99.18,720.35 L90.68,720.35 Z" fill="#00ff00" stroke="#00ff00" stroke-width="1"/>
<path d="M95.5,710.07 L99.75,718.07 L91.25,718.07 Z" fill="#00ff00" stroke="#00ff00" stroke-width="1"/>
<path d="M96.8,702.67 L101.05,710.67 L92.55,710.67 Z" fill="#00ff00" stroke="#00ff00" stroke-width="1"/>
<path d="M98.1,693.97 L102.35,701.97 L93.85,701.97 Z" fill="#00ff00" stroke="#00ff00" stroke-width="1"/>
<path d="M100.8,681.87 L105.05,689.87 L96.55,689.87 Z" fill="#00ff00" stroke="#00ff00" stroke-width="1"/>
<path d="M102.8,668.47 L107.05,676.47 L98.55,676.47 Z" fill="#00ff00" stroke="#00ff00" stroke-width="1"/>
<path d="M106,653.77 L110.25,661.77 L101.75,661.77 Z" fill="#00ff00" stroke="#00ff00" stroke-width="1"/>
<path d="M112,631.77 L116.25,639.77 L107.75,639.77 Z" fill="#00ff00" stroke="#00ff00" stroke-width="1"/>
<path d="M119.3,609.77 L123.55,617.77 L115.05,617.77 Z" fill="#00ff00" stroke="#00ff00" stroke-width="1"/>
<path d="M127.8,585.57 L132.05,593.57 L123.55,593.57 Z" fill="#00ff00" stroke="#00ff00" stroke-width="1"/>
<path d="M139.2,560.27 L143.45,568.27 L134.95,568.27 Z" fill="#00ff00" stroke="#00ff00" stroke-width="1"/>
<path d="M153.5,534.97 L157.75,542.97 L149.25,542.97 Z" fill="#00ff00" stroke="#00ff00" stroke-width="1"/>
<path d="M171.1,510.77 L175.35,518.77 L166.85,518.77 Z" fill="#00ff00" stroke="#00ff00" stroke-width="1"/>
<path d="M191.6,489.87 L195.85,497.87 L187.35,497.87 Z" fill="#00ff00" stroke="#00ff00" stroke-width="1"/>
<path d="M216.2,474.47 L220.45,482.46 L211.95,482.46 Z" fill="#00ff00" stroke="#00ff00" stroke-width="1"/>
<path d="M241.5,467.87 L245.75,475.87 L237.25,475.87 Z" fill="#00ff00" stroke="#00ff00" stroke-width="1"/>
<path d="M267.9,468.27 L272.15,476.26 L263.65,476.26 Z" fill="#00ff00" stroke="#00ff00" stroke-width="1"/>
<path d="M293.3,476.87 L297.55,484.87 L289.05,484.87 Z" fill="#00ff00" stroke="#00ff00" stroke-width="1"/>
<path d="M316.4,492.67 L320.65,500.67 L312.15,500.67 Z" fill="#00ff00" stroke="#00ff00" stroke-width="1"/>
<path d="M336,513.27 L340.25,521.27 L331.75,521.27 Z" fill="#00ff00" stroke="#00ff00" stroke-width="1"/>
<path d="M352.5,535.47 L356.75,543.47 L348.25,543.47 Z" fill="#00ff00" stroke="#00ff00" stroke-width="1"/>
<path d="M367.1,559.17 L371.35,567.17 L362.85,567.17 Z" fill="#00ff00" stroke="#00ff00" stroke-width="1"/>
<path d="M378.1,582.97 L382.35,590.97 L373.85,590.97 Z" fill="#00ff00" stroke="#00ff00" stroke-width="1"/>
<path d="M388.3,604.47 L392.55,612.47 L384.05,612.47 Z" fill="#00ff00" stroke="#00ff00" stroke-width="1"/>
<path d="M395.6,624.17 L399.85,632.17 L391.35,632.17 Z" fill="#00ff00" stroke="#00ff00" stroke-width="1"/>
<path d="M401.6,641.57 L405.85,649.57 L397.35,649.57 Z" fill="#00ff00" stroke="#00ff00" stroke-width="1"/>
<path d="M405.1,657.37 L409.35,665.37 L400.85,665.37 Z" fill="#00ff00" stroke="#00ff00" stroke-width="1"/>
<path d="M120.35,695.24 L120.85,693.76 M124.11,685.38 L125.19,682.92 M129.04,674.79 L130.96,671.01 M135.4,663.19 L138.4,658.41 M143.34,650.88 L146.86,645.72 M152.64,638.88 L156.66,635.02 M163.57,629.3 L168.63,625.7 M176.55,621.62 L181.25,619.98 M190,618.5 L195.1,618.5 M203.92,619.78 L209.48,621.42 M217.44,625.34 L221.76,628.46 M228.58,634.28 L232.12,637.82 M237.57,644.89 L240.33,649.61 M244.38,657.63 L246.72,663.07 M250.09,671.41 L251.51,675.19 M254.58,683.65 L255.42,686.05" fill="none" stroke="#ff0000" stroke-width="2"/>
<circle cx="101.5" cy="763" r="3.75" fill="#ff0000" stroke="#ff0000" stroke-width="1"/>
<circle cx="102.08" cy="760.65" r="3.75" fill="#ff0000" stroke="#ff0000" stroke-width="1"/>
<circle cx="102.65" cy="758.3" r="3.75" fill="#ff0000" stroke="#ff0000" stroke-width="1"/>
<circle cx="103.22" cy="755.95" r="3.75" fill="#ff0000" stroke="#ff0000" stroke-width="1"/>
<circle cx="103.8" cy="753.6" r="3.75" fill="#ff0000" stroke="#ff0000" stroke-width="1"/>
<circle cx="104.38" cy="751.25" r="3.75" fill="#ff0000" stroke="#ff0000" stroke-width="1"/>
<circle cx="104.95" cy="748.9" r="3.75" fill="#ff0000" stroke="#ff0000" stroke-width="1"/>
<circle cx="105.53" cy="746.55" r="3.75" fill="#ff0000" stroke="#ff0000" stroke-width="1"/>
<circle cx="106.1" cy="744.2" r="3.75" fill="#ff0000" stroke="#ff0000" stroke-width="1"/>
<circle cx="106.67" cy="741.85" r="3.75" fill="#ff0000" stroke="#ff0000" stroke-width="1"/>
<circle cx="107.25" cy="739.5" r="3.75" fill="#ff0000" stroke="#ff0000" stroke-width="1"/>
<circle cx="107.83" cy="737.15" r="3.75" fill="#ff0000" stroke="#ff0000" stroke-width="1"/>
<circle cx="108.4" cy="734.8" r="3.75" fill="#ff0000" stroke="#ff0000" stroke-width="1"/>
<circle cx="108.97" cy="732.45" r="3.75" fill="#ff0000" stroke="#ff0000" stroke-width="1"/>
<circle cx="109.55" cy="730.1" r="3.75" fill="#ff0000" stroke="#ff0000" stroke-width="1"/>
<circle cx="110.12" cy="727.75" r="3.75" fill="#ff0000" stroke="#ff0000" stroke-width="1"/>
<circle cx="110.7" cy="725.4" r="3.75" fill="#ff0000" stroke="#ff0000" stroke-width="1"/>
<circle cx="111.28" cy="723.05" r="3.75" fill="#ff0000" stroke="#ff0000" stroke-width="1"/>
<circle cx="111.85" cy="720.7" r="3.75" fill="#ff0000" stroke="#ff0000" stroke-width="1"/>
<circle cx="112.42" cy="718.35" r="3.75" fill="#ff0000" stroke="#ff0000" stroke-width="1"/>
<circle cx="113" cy="716" r="3.75" fill="#ff0000" stroke="#ff0000" stroke-width="1"/>
<circle cx="116.2" cy="708.9" r="3.75" fill="#ff0000" stroke="#ff0000" stroke-width="1"/>
<circle cx="118.9" cy="699.5" r="3.75" fill="#ff0000" stroke="#ff0000" stroke-width="1"/>
<circle cx="122.3" cy="689.5" r="3.75" fill="#ff0000" stroke="#ff0000" stroke-width="1"/>
<circle cx="127" cy="678.8" r="3.75" fill="#ff0000" stroke="#ff0000" stroke-width="1"/>
<circle cx="133" cy="667" r="3.75" fill="#ff0000" stroke="#ff0000" stroke-width="1"/>
<circle cx="140.8" cy="654.6" r="3.75" fill="#ff0000" stroke="#ff0000" stroke-width="1"/>
<circle cx="149.4" cy="642" r="3.75" fill="#ff0000" stroke="#ff0000" stroke-width="1"/>
<circle cx="159.9" cy="631.9" r="3.75" fill="#ff0000" stroke="#ff0000" stroke-width="1"/>
<circle cx="172.3" cy="623.1" r="3.75" fill="#ff0000" stroke="#ff0000" stroke-width="1"/>
<circle cx="185.5" cy="618.5" r="3.75" fill="#ff0000" stroke="#ff0000" stroke-width="1"/>
<circle cx="199.6" cy="618.5" r="3.75" fill="#ff0000" stroke="#ff0000" stroke-width="1"/>
<circle cx="213.8" cy="622.7" r="3.75" fill="#ff0000" stroke="#ff0000" stroke-width="1"/>
<circle cx="225.4" cy="631.1" r="3.75" fill="#ff0000" stroke="#ff0000" stroke-width="1"/>
<circle cx="235.3" cy="641" r="3.75" fill="#ff0000" stroke="#ff0000" stroke-width="1"/>
<circle cx="242.6" cy="653.5" r="3.75" fill="#ff0000" stroke="#ff0000" stroke-width="1"/>
<circle cx="248.5" cy="667.2" r="3.75" fill="#ff0000" stroke="#ff0000" stroke-width="1"/>
<circle cx="253.1" cy="679.4" r="3.75" fill="#ff0000" stroke="#ff0000" stroke-width="1"/>
<circle cx="256.9" cy="690.3" r="3.75" fill="#ff0000" stroke="#ff0000" stroke-width="1"/>
<circle cx="259.6" cy="699.7" r="3.75" fill="#ff0000" stroke="#ff0000" stroke-width="1"/>
<circle cx="261.7" cy="708.1" r="3.75" fill="#ff0000" stroke="#ff0000" stroke-width="1"/>
<circle cx="264.2" cy="715.5" r="3.75" fill="#ff0000" stroke="#ff0000" stroke-width="1"/>
<circle cx="265.9" cy="721.8" r="3.75" fill="#ff0000" stroke="#ff0000" stroke-width="1"/>
<circle cx="267.8" cy="727.7" r="3.75" fill="#ff0000" stroke="#ff0000" stroke-width="1"/>
<circle cx="269.5" cy="732.3" r="3.75" fill="#ff0000" stroke="#ff0000" stroke-width="1"/>
<circle cx="271.2" cy="735.4" r="3.75" fill="#ff0000" stroke="#ff0000" stroke-width="1"/>
<path d="M117.29,691.32 L117.81,688.98 M119.76,679.18 L120.74,673.62 M122.84,663.86 L125.06,655.24 M127.48,645.54 L129.72,636.36 M132.41,626.73 L136.69,613.17 M139.87,603.69 L145.23,588.61 M148.88,579.31 L156.32,562.09 M160.58,553.05 L170.42,533.85 M175.5,525.26 L188.1,506.64 M194.02,498.59 L208.28,480.71 M215.13,473.47 L232.27,458.13 M240.35,452.33 L259.45,441.47 M268.66,437.81 L287.44,433.19 M297.3,432.22 L316.8,433.08 M326.54,434.88 L345.56,441.22 M354.43,445.62 L372.07,457.68 M379.81,463.96 L395.79,479.24 M402.59,486.55 L417.71,504.85 M423.43,513.01 L434.17,531.29 M438.83,540.12 L447.27,557.98 M451.26,567.14 L457.74,583.26 M461.18,592.64 L465.92,606.86 M469.21,616.3 L473.09,626.9 M476.42,636.33 L478.58,642.67 M481.53,652.22 L482.97,657.48" fill="none" stroke="#0000ff" stroke-width="2"/>
<path d="M99.5,767.93 L103.75,759.93 L95.25,759.93 Z" fill="#0000ff" stroke="#0000ff" stroke-width="1"/>
<path d="M100.08,765.65 L104.33,757.66 L95.83,757.66 Z" fill="#0000ff" stroke="#0000ff" stroke-width="1"/>
<path d="M100.67,763.37 L104.92,755.38 L96.42,755.38 Z" fill="#0000ff" stroke="#0000ff" stroke-width="1"/>
<path d="M101.25,761.1 L105.5,753.1 L97,753.1 Z" fill="#0000ff" stroke="#0000ff" stroke-width="1"/>
<path d="M101.83,758.82 L106.08,750.82 L97.58,750.82 Z" fill="#0000ff" stroke="#0000ff" stroke-width="1"/>
<path d="M102.42,756.54 L106.67,748.55 L98.17,748.55 Z" fill="#0000ff" stroke="#0000ff" stroke-width="1"/>
<path d="M103,754.26 L107.25,746.27 L98.75,746.27 Z" fill="#0000ff" stroke="#0000ff" stroke-width="1"/>
<path d="M103.58,751.99 L107.83,743.99 L99.33,743.99 Z" fill="#0000ff" stroke="#0000ff" stroke-width="1"/>
<path d="M104.17,749.71 L108.42,741.71 L99.92,741.71 Z" fill="#0000ff" stroke="#0000ff" stroke-width="1"/>
<path d="M104.75,747.43 L109,739.43 L100.5,739.43 Z" fill="#0000ff" stroke="#0000ff" stroke-width="1"/>
<path d="M105.33,745.15 L109.58,737.16 L101.08,737.16 Z" fill="#0000ff" stroke="#0000ff" stroke-width="1"/>
<path d="M105.92,742.87 L110.17,734.88 L101.67,734.88 Z" fill="#0000ff" stroke="#0000ff" stroke-width="1"/>
<path d="M106.5,740.6 L110.75,732.6 L102.25,732.6 Z" fill="#0000ff" stroke="#0000ff" stroke-width="1"/>
<path d="M107.08,738.32 L111.33,730.32 L102.83,730.32 Z" fill="#0000ff" stroke="#0000ff" stroke-width="1"/>
<path d="M107.67,736.04 L111.92,728.05 L103.42,728.05 Z" fill="#0000ff" stroke="#0000ff" stroke-width="1"/>
<path d="M108.25,733.76 L112.5,725.77 L104,725.77 Z" fill="#0000ff" stroke="#0000ff" stroke-width="1"/>
<path d="M108.83,731.49 L113.08,723.49 L104.58,723.49 Z" fill="#0000ff" stroke="#0000ff" stroke-width="1"/>
<path d="M109.42,729.21 L113.67,721.21 L105.17,721.21 Z" fill="#0000ff" stroke="#0000ff" stroke-width="1"/>
<path d="M110,726.93 L114.25,718.93 L105.75,718.93 Z" fill="#0000ff" stroke="#0000ff" stroke-width="1"/>
<path d="M111.5,719.93 L115.75,711.93 L107.25,711.93 Z" fill="#0000ff" stroke="#0000ff" stroke-width="1"/>
<path d="M114.2,711.83 L118.45,703.83 L109.95,703.83 Z" fill="#0000ff" stroke="#0000ff" stroke-width="1"/>
<path d="M116.2,701.13 L120.45,693.13 L111.95,693.13 Z" fill="#0000ff" stroke="#0000ff" stroke-width="1"/>
<path d="M118.9,689.03 L123.15,681.03 L114.65,681.03 Z" fill="#0000ff" stroke="#0000ff" stroke-width="1"/>
<path d="M121.6,673.63 L125.85,665.63 L117.35,665.63 Z" fill="#0000ff" stroke="#0000ff" stroke-width="1"/>
<path d="M126.3,655.33 L130.55,647.33 L122.05,647.33 Z" fill="#0000ff" stroke="#0000ff" stroke-width="1"/>
<path d="M130.9,636.43 L135.15,628.43 L126.65,628.43 Z" fill="#0000ff" stroke="#0000ff" stroke-width="1"/>
<path d="M138.2,613.33 L142.45,605.33 L133.95,605.33 Z" fill="#0000ff" stroke="#0000ff" stroke-width="1"/>
<path d="M146.9,588.83 L151.15,580.83 L142.65,580.83 Z" fill="#0000ff" stroke="#0000ff" stroke-width="1"/>
<path d="M158.3,562.43 L162.55,554.43 L154.05,554.43 Z" fill="#0000ff" stroke="#0000ff" stroke-width="1"/>
<path d="M172.7,534.33 L176.95,526.33 L168.45,526.33 Z" fill="#0000ff" stroke="#0000ff" stroke-width="1"/>
<path d="M190.9,507.43 L195.15,499.44 L186.65,499.44 Z" fill="#0000ff" stroke="#0000ff" stroke-width="1"/>
<path d="M211.4,481.73 L215.65,473.74 L207.15,473.74 Z" fill="#0000ff" stroke="#0000ff" stroke-width="1"/>
<path d="M236,459.73 L240.25,451.74 L231.75,451.74 Z" fill="#0000ff" stroke="#0000ff" stroke-width="1"/>
<path d="M263.8,443.93 L268.05,435.94 L259.55,435.94 Z" fill="#0000ff" stroke="#0000ff" stroke-width="1"/>
<path d="M292.3,436.93 L296.55,428.94 L288.05,428.94 Z" fill="#0000ff" stroke="#0000ff" stroke-width="1"/>
<path d="M321.8,438.23 L326.05,430.24 L317.55,430.24 Z" fill="#0000ff" stroke="#0000ff" stroke-width="1"/>
<path d="M350.3,447.73 L354.55,439.74 L346.05,439.74 Z" fill="#0000ff" stroke="#0000ff" stroke-width="1"/>
<path d="M376.2,465.43 L380.45,457.44 L371.95,457.44 Z" fill="#0000ff" stroke="#0000ff" stroke-width="1"/>
<path d="M399.4,487.63 L403.65,479.63 L395.15,479.63 Z" fill="#0000ff" stroke="#0000ff" stroke-width="1"/>
<path d="M420.9,513.63 L425.15,505.63 L416.65,505.63 Z" fill="#0000ff" stroke="#0000ff" stroke-width="1"/>
<path d="M436.7,540.53 L440.95,532.53 L432.45,532.53 Z" fill="#0000ff" stroke="#0000ff" stroke-width="1"/>
<path d="M449.4,567.43 L453.65,559.43 L445.15,559.43 Z" fill="#0000ff" stroke="#0000ff" stroke-width="1"/>
<path d="M459.6,592.83 L463.85,584.83 L455.35,584.83 Z" fill="#0000ff" stroke="#0000ff" stroke-width="1"/>
<path d="M467.5,616.53 L471.75,608.53 L463.25,608.53 Z" fill="#0000ff" stroke="#0000ff" stroke-width="1"/>
<path d="M474.8,636.53 L479.05,628.53 L470.55,628.53 Z" fill="#0000ff" stroke="#0000ff" stroke-width="1"/>
<path d="M480.2,652.33 L484.45,644.33 L475.95,644.33 Z" fill="#0000ff" stroke="#0000ff" stroke-width="1"/>
<path d="M484.3,667.23 L488.55,659.23 L480.05,659.23 Z" fill="#0000ff" stroke="#0000ff" stroke-width="1"/>
<path d="M487.4,676.73 L491.65,668.73 L483.15,668.73 Z" fill="#0000ff" stroke="#0000ff" stroke-width="1"/>
</g>
<rect x="364.1" y="673.7" width="127" height="92" fill="#fff" stroke="#888" stroke-width="1"/>
<line x1="366" y1="686.1" x2="407.8" y2="686.1" stroke="#000000" stroke-width="2" />
<rect x="383.4" y="682.6" width="7" height="7" fill="#000000" stroke="#000000" stroke-width="1"/>
<text x="411.8" y="691.91" font-family="'Liberation Serif','Times New Roman',serif" font-size="17.6" font-weight="normal" text-anchor="start" fill="#222" >Co/NC</text>
<line x1="366" y1="708" x2="407.8" y2="708" stroke="#ff0000" stroke-width="2" />
<circle cx="386.9" cy="708" r="4" fill="#ff0000" stroke="#ff0000" stroke-width="1"/>
<text x="411.8" y="713.81" font-family="'Liberation Serif','Times New Roman',serif" font-size="17.6" font-weight="normal" text-anchor="start" fill="#222" >Ce/Co/NC</text>
<line x1="366" y1="729.9" x2="407.8" y2="729.9" stroke="#00ff00" stroke-width="2" />
<path d="M386.9,724.68 L391.4,733.11 L382.4,733.11 Z" fill="#00ff00" stroke="#00ff00" stroke-width="1"/>
<text x="411.8" y="735.71" font-family="'Liberation Serif','Times New Roman',serif" font-size="17.6" font-weight="normal" text-anchor="start" fill="#222" >La/Co/NC</text>
<line x1="366" y1="751.8" x2="407.8" y2="751.8" stroke="#0000ff" stroke-width="2" />
<path d="M386.9,757.02 L391.4,748.59 L382.4,748.59 Z" fill="#0000ff" stroke="#0000ff" stroke-width="1"/>
<text x="411.8" y="757.61" font-family="'Liberation Serif','Times New Roman',serif" font-size="17.6" font-weight="normal" text-anchor="start" fill="#222" >Nd/Co/NC</text>
<line x1="62" y1="421.7" x2="491.3" y2="421.7" stroke="#000" stroke-width="2.3" />
<line x1="63" y1="420.7" x2="63" y2="767.4" stroke="#000" stroke-width="2.3" />
<line x1="62" y1="766.4" x2="491.3" y2="766.4" stroke="#000" stroke-width="2.3" />
<line x1="490.3" y1="420.7" x2="490.3" y2="673.7" stroke="#000" stroke-width="2.3" />
<line x1="63" y1="766.4" x2="56.5" y2="766.4" stroke="#000" stroke-width="2.2" />
<line x1="63" y1="727.87" x2="56.5" y2="727.87" stroke="#000" stroke-width="2.2" />
<line x1="63" y1="689.33" x2="56.5" y2="689.33" stroke="#000" stroke-width="2.2" />
<line x1="63" y1="650.79" x2="56.5" y2="650.79" stroke="#000" stroke-width="2.2" />
<line x1="63" y1="612.26" x2="56.5" y2="612.26" stroke="#000" stroke-width="2.2" />
<line x1="63" y1="573.73" x2="56.5" y2="573.73" stroke="#000" stroke-width="2.2" />
<line x1="63" y1="535.19" x2="56.5" y2="535.19" stroke="#000" stroke-width="2.2" />
<line x1="63" y1="496.65" x2="56.5" y2="496.65" stroke="#000" stroke-width="2.2" />
<line x1="63" y1="458.12" x2="56.5" y2="458.12" stroke="#000" stroke-width="2.2" />
<line x1="63" y1="747.13" x2="59.5" y2="747.13" stroke="#000" stroke-width="2.2" />
<line x1="63" y1="708.6" x2="59.5" y2="708.6" stroke="#000" stroke-width="2.2" />
<line x1="63" y1="670.06" x2="59.5" y2="670.06" stroke="#000" stroke-width="2.2" />
<line x1="63" y1="631.53" x2="59.5" y2="631.53" stroke="#000" stroke-width="2.2" />
<line x1="63" y1="592.99" x2="59.5" y2="592.99" stroke="#000" stroke-width="2.2" />
<line x1="63" y1="554.46" x2="59.5" y2="554.46" stroke="#000" stroke-width="2.2" />
<line x1="63" y1="515.92" x2="59.5" y2="515.92" stroke="#000" stroke-width="2.2" />
<line x1="63" y1="477.39" x2="59.5" y2="477.39" stroke="#000" stroke-width="2.2" />
<line x1="63" y1="438.85" x2="59.5" y2="438.85" stroke="#000" stroke-width="2.2" />
<line x1="74" y1="766.4" x2="74" y2="772.4" stroke="#000" stroke-width="2.2" />
<line x1="111.8" y1="766.4" x2="111.8" y2="772.4" stroke="#000" stroke-width="2.2" />
<line x1="149.6" y1="766.4" x2="149.6" y2="772.4" stroke="#000" stroke-width="2.2" />
<line x1="187.4" y1="766.4" x2="187.4" y2="772.4" stroke="#000" stroke-width="2.2" />
<line x1="225.2" y1="766.4" x2="225.2" y2="772.4" stroke="#000" stroke-width="2.2" />
<line x1="263" y1="766.4" x2="263" y2="772.4" stroke="#000" stroke-width="2.2" />
<line x1="300.8" y1="766.4" x2="300.8" y2="772.4" stroke="#000" stroke-width="2.2" />
<line x1="338.6" y1="766.4" x2="338.6" y2="772.4" stroke="#000" stroke-width="2.2" />
<line x1="376.4" y1="766.4" x2="376.4" y2="772.4" stroke="#000" stroke-width="2.2" />
<line x1="414.2" y1="766.4" x2="414.2" y2="772.4" stroke="#000" stroke-width="2.2" />
<line x1="452" y1="766.4" x2="452" y2="772.4" stroke="#000" stroke-width="2.2" />
<line x1="489.8" y1="766.4" x2="489.8" y2="772.4" stroke="#000" stroke-width="2.2" />
<line x1="92.9" y1="766.4" x2="92.9" y2="769.4" stroke="#000" stroke-width="2.2" />
<line x1="130.7" y1="766.4" x2="130.7" y2="769.4" stroke="#000" stroke-width="2.2" />
<line x1="168.5" y1="766.4" x2="168.5" y2="769.4" stroke="#000" stroke-width="2.2" />
<line x1="206.3" y1="766.4" x2="206.3" y2="769.4" stroke="#000" stroke-width="2.2" />
<line x1="244.1" y1="766.4" x2="244.1" y2="769.4" stroke="#000" stroke-width="2.2" />
<line x1="281.9" y1="766.4" x2="281.9" y2="769.4" stroke="#000" stroke-width="2.2" />
<line x1="319.7" y1="766.4" x2="319.7" y2="769.4" stroke="#000" stroke-width="2.2" />
<line x1="357.5" y1="766.4" x2="357.5" y2="769.4" stroke="#000" stroke-width="2.2" />
<line x1="395.3" y1="766.4" x2="395.3" y2="769.4" stroke="#000" stroke-width="2.2" />
<line x1="433.1" y1="766.4" x2="433.1" y2="769.4" stroke="#000" stroke-width="2.2" />
<line x1="470.9" y1="766.4" x2="470.9" y2="769.4" stroke="#000" stroke-width="2.2" />
<text x="51.8" y="773" font-family="'Liberation Serif','Times New Roman',serif" font-size="19.5" font-weight="bold" text-anchor="end" fill="#000" >0.0</text>
<text x="51.8" y="734.47" font-family="'Liberation Serif','Times New Roman',serif" font-size="19.5" font-weight="bold" text-anchor="end" fill="#000" >0.5</text>
<text x="51.8" y="695.93" font-family="'Liberation Serif','Times New Roman',serif" font-size="19.5" font-weight="bold" text-anchor="end" fill="#000" >1.0</text>
<text x="51.8" y="657.39" font-family="'Liberation Serif','Times New Roman',serif" font-size="19.5" font-weight="bold" text-anchor="end" fill="#000" >1.5</text>
<text x="51.8" y="618.86" font-family="'Liberation Serif','Times New Roman',serif" font-size="19.5" font-weight="bold" text-anchor="end" fill="#000" >2.0</text>
<text x="51.8" y="580.33" font-family="'Liberation Serif','Times New Roman',serif" font-size="19.5" font-weight="bold" text-anchor="end" fill="#000" >2.5</text>
<text x="51.8" y="541.79" font-family="'Liberation Serif','Times New Roman',serif" font-size="19.5" font-weight="bold" text-anchor="end" fill="#000" >3.0</text>
<text x="51.8" y="503.25" font-family="'Liberation Serif','Times New Roman',serif" font-size="19.5" font-weight="bold" text-anchor="end" fill="#000" >3.5</text>
<text x="51.8" y="464.72" font-family="'Liberation Serif','Times New Roman',serif" font-size="19.5" font-weight="bold" text-anchor="end" fill="#000" >4.0</text>
<text x="74" y="793" font-family="'Liberation Serif','Times New Roman',serif" font-size="19.5" font-weight="bold" text-anchor="middle" fill="#000" >2</text>
<text x="111.8" y="793" font-family="'Liberation Serif','Times New Roman',serif" font-size="19.5" font-weight="bold" text-anchor="middle" fill="#000" >3</text>
<text x="149.6" y="793" font-family="'Liberation Serif','Times New Roman',serif" font-size="19.5" font-weight="bold" text-anchor="middle" fill="#000" >4</text>
<text x="187.4" y="793" font-family="'Liberation Serif','Times New Roman',serif" font-size="19.5" font-weight="bold" text-anchor="middle" fill="#000" >5</text>
<text x="225.2" y="793" font-family="'Liberation Serif','Times New Roman',serif" font-size="19.5" font-weight="bold" text-anchor="middle" fill="#000" >6</text>
<text x="263" y="793" font-family="'Liberation Serif','Times New Roman',serif" font-size="19.5" font-weight="bold" text-anchor="middle" fill="#000" >7</text>
<text x="300.8" y="793" font-family="'Liberation Serif','Times New Roman',serif" font-size="19.5" font-weight="bold" text-anchor="middle" fill="#000" >8</text>
<text x="338.6" y="793" font-family="'Liberation Serif','Times New Roman',serif" font-size="19.5" font-weight="bold" text-anchor="middle" fill="#000" >9</text>
<text x="376.4" y="793" font-family="'Liberation Serif','Times New Roman',serif" font-size="19.5" font-weight="bold" text-anchor="middle" fill="#000" >10</text>
<text x="414.2" y="793" font-family="'Liberation Serif','Times New Roman',serif" font-size="19.5" font-weight="bold" text-anchor="middle" fill="#000" >11</text>
<text x="452" y="793" font-family="'Liberation Serif','Times New Roman',serif" font-size="19.5" font-weight="bold" text-anchor="middle" fill="#000" >12</text>
<text x="489.8" y="793" font-family="'Liberation Serif','Times New Roman',serif" font-size="19.5" font-weight="bold" text-anchor="middle" fill="#000" >13</text>
<text x="276" y="812" font-family="'Liberation Serif','Times New Roman',serif" font-size="23" font-weight="bold" text-anchor="middle" fill="#000" >Z' (ohm)</text>
<text transform="translate(22.6,593.8) rotate(-90)" font-family="'Liberation Serif','Times New Roman',serif" font-size="23" font-weight="bold" text-anchor="middle" fill="#000">-Z'' (ohm)</text>
<text x="2.2" y="441.8" font-family="'Liberation Serif','Times New Roman',serif" font-size="26.5" font-weight="bold" text-anchor="start" fill="#000" >(C)</text>
<defs><clipPath id="clipD"><rect x="562.4" y="420.7" width="424.6" height="344.9"/></clipPath></defs>
<g clip-path="url(#clipD)">
<path d="M556.54,729.97 L562.4,729.97 L570.57,728.13 L578.74,726.29 L586.91,725.18 L595.08,724.2 L603.25,723.33 L611.42,722.68 L619.59,722.03 L627.76,721.55 L635.93,721.47 L644.1,721.4 L652.27,721.33 L660.44,721.25 L668.61,721.18 L676.78,721.1 L684.95,721.14 L693.12,721.23 L701.29,721.32 L709.46,721.41 L717.63,721.5 L725.8,721.6 L733.97,721.69 L742.14,721.78 L750.31,721.88 L758.48,721.97 L766.65,722.07 L774.83,722.16 L783,722.25 L791.17,722.37 L799.34,722.52 L807.51,722.68 L815.68,722.83 L823.85,722.98 L832.02,723.14 L840.19,723.29 L848.36,723.43 L856.53,723.56 L864.7,723.7 L872.87,723.84 L881.04,723.98 L889.21,724.12 L897.38,724.25 L905.55,724.36 L913.72,724.45 L921.89,724.54 L930.06,724.63 L938.23,724.72 L946.4,724.82 L954.57,724.91 L962.74,725 L970.91,725.09 L979.08,725.18 L987.25,725.27 L993.11,725.27" fill="none" stroke="#00ff00" stroke-width="1.2" stroke-linejoin="round" stroke-linecap="round" />
<path d="M562.4,723.33 L566.4,730.89 L558.4,730.89 Z" fill="#ffffff" stroke="#00ff00" stroke-width="1"/>
<path d="M570.57,721.49 L574.57,729.05 L566.57,729.05 Z" fill="#ffffff" stroke="#00ff00" stroke-width="1"/>
<path d="M578.74,719.65 L582.74,727.21 L574.74,727.21 Z" fill="#ffffff" stroke="#00ff00" stroke-width="1"/>
<path d="M586.91,718.54 L590.91,726.1 L582.91,726.1 Z" fill="#ffffff" stroke="#00ff00" stroke-width="1"/>
<path d="M595.08,717.56 L599.08,725.12 L591.08,725.12 Z" fill="#ffffff" stroke="#00ff00" stroke-width="1"/>
<path d="M603.25,716.69 L607.25,724.25 L599.25,724.25 Z" fill="#ffffff" stroke="#00ff00" stroke-width="1"/>
<path d="M611.42,716.04 L615.42,723.6 L607.42,723.6 Z" fill="#ffffff" stroke="#00ff00" stroke-width="1"/>
<path d="M619.59,715.39 L623.59,722.95 L615.59,722.95 Z" fill="#ffffff" stroke="#00ff00" stroke-width="1"/>
<path d="M627.76,714.91 L631.76,722.47 L623.76,722.47 Z" fill="#ffffff" stroke="#00ff00" stroke-width="1"/>
<path d="M635.93,714.83 L639.93,722.39 L631.93,722.39 Z" fill="#ffffff" stroke="#00ff00" stroke-width="1"/>
<path d="M644.1,714.76 L648.1,722.32 L640.1,722.32 Z" fill="#ffffff" stroke="#00ff00" stroke-width="1"/>
<path d="M652.27,714.69 L656.27,722.25 L648.27,722.25 Z" fill="#ffffff" stroke="#00ff00" stroke-width="1"/>
<path d="M660.44,714.61 L664.44,722.17 L656.44,722.17 Z" fill="#ffffff" stroke="#00ff00" stroke-width="1"/>
<path d="M668.61,714.54 L672.61,722.1 L664.61,722.1 Z" fill="#ffffff" stroke="#00ff00" stroke-width="1"/>
<path d="M676.78,714.46 L680.78,722.02 L672.78,722.02 Z" fill="#ffffff" stroke="#00ff00" stroke-width="1"/>
<path d="M684.95,714.5 L688.95,722.06 L680.95,722.06 Z" fill="#ffffff" stroke="#00ff00" stroke-width="1"/>
<path d="M693.12,714.59 L697.12,722.15 L689.12,722.15 Z" fill="#ffffff" stroke="#00ff00" stroke-width="1"/>
<path d="M701.29,714.68 L705.29,722.24 L697.29,722.24 Z" fill="#ffffff" stroke="#00ff00" stroke-width="1"/>
<path d="M709.46,714.77 L713.46,722.33 L705.46,722.33 Z" fill="#ffffff" stroke="#00ff00" stroke-width="1"/>
<path d="M717.63,714.86 L721.63,722.42 L713.63,722.42 Z" fill="#ffffff" stroke="#00ff00" stroke-width="1"/>
<path d="M725.8,714.96 L729.8,722.52 L721.8,722.52 Z" fill="#ffffff" stroke="#00ff00" stroke-width="1"/>
<path d="M733.97,715.05 L737.97,722.61 L729.97,722.61 Z" fill="#ffffff" stroke="#00ff00" stroke-width="1"/>
<path d="M742.14,715.14 L746.14,722.7 L738.14,722.7 Z" fill="#ffffff" stroke="#00ff00" stroke-width="1"/>
<path d="M750.31,715.24 L754.31,722.8 L746.31,722.8 Z" fill="#ffffff" stroke="#00ff00" stroke-width="1"/>
<path d="M758.48,715.33 L762.48,722.89 L754.48,722.89 Z" fill="#ffffff" stroke="#00ff00" stroke-width="1"/>
<path d="M766.65,715.43 L770.65,722.99 L762.65,722.99 Z" fill="#ffffff" stroke="#00ff00" stroke-width="1"/>
<path d="M774.83,715.52 L778.83,723.08 L770.83,723.08 Z" fill="#ffffff" stroke="#00ff00" stroke-width="1"/>
<path d="M783,715.61 L787,723.17 L779,723.17 Z" fill="#ffffff" stroke="#00ff00" stroke-width="1"/>
<path d="M791.17,715.73 L795.17,723.29 L787.17,723.29 Z" fill="#ffffff" stroke="#00ff00" stroke-width="1"/>
<path d="M799.34,715.88 L803.34,723.44 L795.34,723.44 Z" fill="#ffffff" stroke="#00ff00" stroke-width="1"/>
<path d="M807.51,716.04 L811.51,723.6 L803.51,723.6 Z" fill="#ffffff" stroke="#00ff00" stroke-width="1"/>
<path d="M815.68,716.19 L819.68,723.75 L811.68,723.75 Z" fill="#ffffff" stroke="#00ff00" stroke-width="1"/>
<path d="M823.85,716.34 L827.85,723.9 L819.85,723.9 Z" fill="#ffffff" stroke="#00ff00" stroke-width="1"/>
<path d="M832.02,716.5 L836.02,724.06 L828.02,724.06 Z" fill="#ffffff" stroke="#00ff00" stroke-width="1"/>
<path d="M840.19,716.65 L844.19,724.21 L836.19,724.21 Z" fill="#ffffff" stroke="#00ff00" stroke-width="1"/>
<path d="M848.36,716.79 L852.36,724.35 L844.36,724.35 Z" fill="#ffffff" stroke="#00ff00" stroke-width="1"/>
<path d="M856.53,716.92 L860.53,724.49 L852.53,724.49 Z" fill="#ffffff" stroke="#00ff00" stroke-width="1"/>
<path d="M864.7,717.06 L868.7,724.62 L860.7,724.62 Z" fill="#ffffff" stroke="#00ff00" stroke-width="1"/>
<path d="M872.87,717.2 L876.87,724.76 L868.87,724.76 Z" fill="#ffffff" stroke="#00ff00" stroke-width="1"/>
<path d="M881.04,717.34 L885.04,724.9 L877.04,724.9 Z" fill="#ffffff" stroke="#00ff00" stroke-width="1"/>
<path d="M889.21,717.48 L893.21,725.04 L885.21,725.04 Z" fill="#ffffff" stroke="#00ff00" stroke-width="1"/>
<path d="M897.38,717.61 L901.38,725.17 L893.38,725.17 Z" fill="#ffffff" stroke="#00ff00" stroke-width="1"/>
<path d="M905.55,717.72 L909.55,725.28 L901.55,725.28 Z" fill="#ffffff" stroke="#00ff00" stroke-width="1"/>
<path d="M913.72,717.81 L917.72,725.37 L909.72,725.37 Z" fill="#ffffff" stroke="#00ff00" stroke-width="1"/>
<path d="M921.89,717.9 L925.89,725.46 L917.89,725.46 Z" fill="#ffffff" stroke="#00ff00" stroke-width="1"/>
<path d="M930.06,717.99 L934.06,725.55 L926.06,725.55 Z" fill="#ffffff" stroke="#00ff00" stroke-width="1"/>
<path d="M938.23,718.08 L942.23,725.64 L934.23,725.64 Z" fill="#ffffff" stroke="#00ff00" stroke-width="1"/>
<path d="M946.4,718.18 L950.4,725.74 L942.4,725.74 Z" fill="#ffffff" stroke="#00ff00" stroke-width="1"/>
<path d="M954.57,718.27 L958.57,725.83 L950.57,725.83 Z" fill="#ffffff" stroke="#00ff00" stroke-width="1"/>
<path d="M962.74,718.36 L966.74,725.92 L958.74,725.92 Z" fill="#ffffff" stroke="#00ff00" stroke-width="1"/>
<path d="M970.91,718.45 L974.91,726.01 L966.91,726.01 Z" fill="#ffffff" stroke="#00ff00" stroke-width="1"/>
<path d="M979.08,718.54 L983.08,726.1 L975.08,726.1 Z" fill="#ffffff" stroke="#00ff00" stroke-width="1"/>
<path d="M987.25,718.63 L991.25,726.2 L983.25,726.2 Z" fill="#ffffff" stroke="#00ff00" stroke-width="1"/>
<path d="M556.54,717.1 L562.4,717.1 L570.57,719.42 L578.74,722.89 L586.91,726.77 L595.08,728.98 L603.25,731.12 L611.42,733.12 L619.59,734.92 L627.76,736.38 L635.93,737.84 L644.1,739.23 L652.27,740.49 L660.44,741.74 L668.61,742.99 L676.78,744.25 L684.95,745.51 L693.12,746.77 L701.29,748.03 L709.46,749.26 L717.63,750 L725.8,750.74 L733.97,751.47 L742.14,752.21 L750.31,752.94 L758.48,753.53 L766.65,754.12 L774.83,754.71 L783,755.3 L791.17,755.89 L799.34,756.34 L807.51,756.78 L815.68,757.23 L823.85,757.67 L832.02,758.12 L840.19,758.57 L848.36,758.79 L856.53,759 L864.7,759.2 L872.87,759.41 L881.04,759.61 L889.21,759.82 L897.38,760.03 L905.55,760.17 L913.72,760.28 L921.89,760.39 L930.06,760.51 L938.23,760.62 L946.4,760.74 L954.57,760.85 L962.74,760.97 L970.91,761.08 L979.08,761.2 L987.25,761.31 L993.11,761.31" fill="none" stroke="#ff0000" stroke-width="1.2" stroke-linejoin="round" stroke-linecap="round" />
<circle cx="562.4" cy="717.1" r="4" fill="#ffffff" stroke="#ff0000" stroke-width="1"/>
<circle cx="570.57" cy="719.42" r="4" fill="#ffffff" stroke="#ff0000" stroke-width="1"/>
<circle cx="578.74" cy="722.89" r="4" fill="#ffffff" stroke="#ff0000" stroke-width="1"/>
<circle cx="586.91" cy="726.77" r="4" fill="#ffffff" stroke="#ff0000" stroke-width="1"/>
<circle cx="595.08" cy="728.98" r="4" fill="#ffffff" stroke="#ff0000" stroke-width="1"/>
<circle cx="603.25" cy="731.12" r="4" fill="#ffffff" stroke="#ff0000" stroke-width="1"/>
<circle cx="611.42" cy="733.12" r="4" fill="#ffffff" stroke="#ff0000" stroke-width="1"/>
<circle cx="619.59" cy="734.92" r="4" fill="#ffffff" stroke="#ff0000" stroke-width="1"/>
<circle cx="627.76" cy="736.38" r="4" fill="#ffffff" stroke="#ff0000" stroke-width="1"/>
<circle cx="635.93" cy="737.84" r="4" fill="#ffffff" stroke="#ff0000" stroke-width="1"/>
<circle cx="644.1" cy="739.23" r="4" fill="#ffffff" stroke="#ff0000" stroke-width="1"/>
<circle cx="652.27" cy="740.49" r="4" fill="#ffffff" stroke="#ff0000" stroke-width="1"/>
<circle cx="660.44" cy="741.74" r="4" fill="#ffffff" stroke="#ff0000" stroke-width="1"/>
<circle cx="668.61" cy="742.99" r="4" fill="#ffffff" stroke="#ff0000" stroke-width="1"/>
<circle cx="676.78" cy="744.25" r="4" fill="#ffffff" stroke="#ff0000" stroke-width="1"/>
<circle cx="684.95" cy="745.51" r="4" fill="#ffffff" stroke="#ff0000" stroke-width="1"/>
<circle cx="693.12" cy="746.77" r="4" fill="#ffffff" stroke="#ff0000" stroke-width="1"/>
<circle cx="701.29" cy="748.03" r="4" fill="#ffffff" stroke="#ff0000" stroke-width="1"/>
<circle cx="709.46" cy="749.26" r="4" fill="#ffffff" stroke="#ff0000" stroke-width="1"/>
<circle cx="717.63" cy="750" r="4" fill="#ffffff" stroke="#ff0000" stroke-width="1"/>
<circle cx="725.8" cy="750.74" r="4" fill="#ffffff" stroke="#ff0000" stroke-width="1"/>
<circle cx="733.97" cy="751.47" r="4" fill="#ffffff" stroke="#ff0000" stroke-width="1"/>
<circle cx="742.14" cy="752.21" r="4" fill="#ffffff" stroke="#ff0000" stroke-width="1"/>
<circle cx="750.31" cy="752.94" r="4" fill="#ffffff" stroke="#ff0000" stroke-width="1"/>
<circle cx="758.48" cy="753.53" r="4" fill="#ffffff" stroke="#ff0000" stroke-width="1"/>
<circle cx="766.65" cy="754.12" r="4" fill="#ffffff" stroke="#ff0000" stroke-width="1"/>
<circle cx="774.83" cy="754.71" r="4" fill="#ffffff" stroke="#ff0000" stroke-width="1"/>
<circle cx="783" cy="755.3" r="4" fill="#ffffff" stroke="#ff0000" stroke-width="1"/>
<circle cx="791.17" cy="755.89" r="4" fill="#ffffff" stroke="#ff0000" stroke-width="1"/>
<circle cx="799.34" cy="756.34" r="4" fill="#ffffff" stroke="#ff0000" stroke-width="1"/>
<circle cx="807.51" cy="756.78" r="4" fill="#ffffff" stroke="#ff0000" stroke-width="1"/>
<circle cx="815.68" cy="757.23" r="4" fill="#ffffff" stroke="#ff0000" stroke-width="1"/>
<circle cx="823.85" cy="757.67" r="4" fill="#ffffff" stroke="#ff0000" stroke-width="1"/>
<circle cx="832.02" cy="758.12" r="4" fill="#ffffff" stroke="#ff0000" stroke-width="1"/>
<circle cx="840.19" cy="758.57" r="4" fill="#ffffff" stroke="#ff0000" stroke-width="1"/>
<circle cx="848.36" cy="758.79" r="4" fill="#ffffff" stroke="#ff0000" stroke-width="1"/>
<circle cx="856.53" cy="759" r="4" fill="#ffffff" stroke="#ff0000" stroke-width="1"/>
<circle cx="864.7" cy="759.2" r="4" fill="#ffffff" stroke="#ff0000" stroke-width="1"/>
<circle cx="872.87" cy="759.41" r="4" fill="#ffffff" stroke="#ff0000" stroke-width="1"/>
<circle cx="881.04" cy="759.61" r="4" fill="#ffffff" stroke="#ff0000" stroke-width="1"/>
<circle cx="889.21" cy="759.82" r="4" fill="#ffffff" stroke="#ff0000" stroke-width="1"/>
<circle cx="897.38" cy="760.03" r="4" fill="#ffffff" stroke="#ff0000" stroke-width="1"/>
<circle cx="905.55" cy="760.17" r="4" fill="#ffffff" stroke="#ff0000" stroke-width="1"/>
<circle cx="913.72" cy="760.28" r="4" fill="#ffffff" stroke="#ff0000" stroke-width="1"/>
<circle cx="921.89" cy="760.39" r="4" fill="#ffffff" stroke="#ff0000" stroke-width="1"/>
<circle cx="930.06" cy="760.51" r="4" fill="#ffffff" stroke="#ff0000" stroke-width="1"/>
<circle cx="938.23" cy="760.62" r="4" fill="#ffffff" stroke="#ff0000" stroke-width="1"/>
<circle cx="946.4" cy="760.74" r="4" fill="#ffffff" stroke="#ff0000" stroke-width="1"/>
<circle cx="954.57" cy="760.85" r="4" fill="#ffffff" stroke="#ff0000" stroke-width="1"/>
<circle cx="962.74" cy="760.97" r="4" fill="#ffffff" stroke="#ff0000" stroke-width="1"/>
<circle cx="970.91" cy="761.08" r="4" fill="#ffffff" stroke="#ff0000" stroke-width="1"/>
<circle cx="979.08" cy="761.2" r="4" fill="#ffffff" stroke="#ff0000" stroke-width="1"/>
<circle cx="987.25" cy="761.31" r="4" fill="#ffffff" stroke="#ff0000" stroke-width="1"/>
<path d="M556.54,703.14 L562.4,703.14 L570.57,704.12 L578.74,705.11 L586.91,706.35 L595.08,707.87 L603.25,709.38 L611.42,710.9 L619.59,712.91 L627.76,714.98 L635.93,717.04 L644.1,719.15 L652.27,721.26 L660.44,723.36 L668.61,725.78 L676.78,728.21 L684.95,730.63 L693.12,733.06 L701.29,735.14 L709.46,736.9 L717.63,738.65 L725.8,740.4 L733.97,741.75 L742.14,742.79 L750.31,743.82 L758.48,744.68 L766.65,745.47 L774.83,746.24 L783,746.93 L791.17,747.61 L799.34,747.89 L807.51,748.17 L815.68,748.46 L823.85,748.74 L832.02,749.02 L840.19,749.31 L848.36,749.42 L856.53,749.53 L864.7,749.63 L872.87,749.73 L881.04,749.84 L889.21,749.94 L897.38,750.04 L905.55,750.09 L913.72,750.11 L921.89,750.13 L930.06,750.15 L938.23,750.18 L946.4,750.2 L954.57,750.22 L962.74,750.25 L970.91,750.27 L979.08,750.29 L987.25,750.31 L993.11,750.31" fill="none" stroke="#0000ff" stroke-width="1.2" stroke-linejoin="round" stroke-linecap="round" />
<path d="M562.4,710.38 L566.4,702.82 L558.4,702.82 Z" fill="#ffffff" stroke="#0000ff" stroke-width="1"/>
<path d="M570.57,711.36 L574.57,703.8 L566.57,703.8 Z" fill="#ffffff" stroke="#0000ff" stroke-width="1"/>
<path d="M578.74,712.35 L582.74,704.79 L574.74,704.79 Z" fill="#ffffff" stroke="#0000ff" stroke-width="1"/>
<path d="M586.91,713.59 L590.91,706.03 L582.91,706.03 Z" fill="#ffffff" stroke="#0000ff" stroke-width="1"/>
<path d="M595.08,715.11 L599.08,707.55 L591.08,707.55 Z" fill="#ffffff" stroke="#0000ff" stroke-width="1"/>
<path d="M603.25,716.62 L607.25,709.06 L599.25,709.06 Z" fill="#ffffff" stroke="#0000ff" stroke-width="1"/>
<path d="M611.42,718.14 L615.42,710.58 L607.42,710.58 Z" fill="#ffffff" stroke="#0000ff" stroke-width="1"/>
<path d="M619.59,720.15 L623.59,712.59 L615.59,712.59 Z" fill="#ffffff" stroke="#0000ff" stroke-width="1"/>
<path d="M627.76,722.22 L631.76,714.65 L623.76,714.65 Z" fill="#ffffff" stroke="#0000ff" stroke-width="1"/>
<path d="M635.93,724.28 L639.93,716.72 L631.93,716.72 Z" fill="#ffffff" stroke="#0000ff" stroke-width="1"/>
<path d="M644.1,726.39 L648.1,718.83 L640.1,718.83 Z" fill="#ffffff" stroke="#0000ff" stroke-width="1"/>
<path d="M652.27,728.5 L656.27,720.94 L648.27,720.94 Z" fill="#ffffff" stroke="#0000ff" stroke-width="1"/>
<path d="M660.44,730.6 L664.44,723.04 L656.44,723.04 Z" fill="#ffffff" stroke="#0000ff" stroke-width="1"/>
<path d="M668.61,733.02 L672.61,725.46 L664.61,725.46 Z" fill="#ffffff" stroke="#0000ff" stroke-width="1"/>
<path d="M676.78,735.45 L680.78,727.89 L672.78,727.89 Z" fill="#ffffff" stroke="#0000ff" stroke-width="1"/>
<path d="M684.95,737.87 L688.95,730.31 L680.95,730.31 Z" fill="#ffffff" stroke="#0000ff" stroke-width="1"/>
<path d="M693.12,740.3 L697.12,732.74 L689.12,732.74 Z" fill="#ffffff" stroke="#0000ff" stroke-width="1"/>
<path d="M701.29,742.38 L705.29,734.82 L697.29,734.82 Z" fill="#ffffff" stroke="#0000ff" stroke-width="1"/>
<path d="M709.46,744.14 L713.46,736.58 L705.46,736.58 Z" fill="#ffffff" stroke="#0000ff" stroke-width="1"/>
<path d="M717.63,745.89 L721.63,738.33 L713.63,738.33 Z" fill="#ffffff" stroke="#0000ff" stroke-width="1"/>
<path d="M725.8,747.64 L729.8,740.08 L721.8,740.08 Z" fill="#ffffff" stroke="#0000ff" stroke-width="1"/>
<path d="M733.97,748.99 L737.97,741.43 L729.97,741.43 Z" fill="#ffffff" stroke="#0000ff" stroke-width="1"/>
<path d="M742.14,750.03 L746.14,742.47 L738.14,742.47 Z" fill="#ffffff" stroke="#0000ff" stroke-width="1"/>
<path d="M750.31,751.06 L754.31,743.5 L746.31,743.5 Z" fill="#ffffff" stroke="#0000ff" stroke-width="1"/>
<path d="M758.48,751.92 L762.48,744.36 L754.48,744.36 Z" fill="#ffffff" stroke="#0000ff" stroke-width="1"/>
<path d="M766.65,752.71 L770.65,745.15 L762.65,745.15 Z" fill="#ffffff" stroke="#0000ff" stroke-width="1"/>
<path d="M774.83,753.48 L778.83,745.92 L770.83,745.92 Z" fill="#ffffff" stroke="#0000ff" stroke-width="1"/>
<path d="M783,754.17 L787,746.61 L779,746.61 Z" fill="#ffffff" stroke="#0000ff" stroke-width="1"/>
<path d="M791.17,754.85 L795.17,747.29 L787.17,747.29 Z" fill="#ffffff" stroke="#0000ff" stroke-width="1"/>
<path d="M799.34,755.13 L803.34,747.57 L795.34,747.57 Z" fill="#ffffff" stroke="#0000ff" stroke-width="1"/>
<path d="M807.51,755.41 L811.51,747.85 L803.51,747.85 Z" fill="#ffffff" stroke="#0000ff" stroke-width="1"/>
<path d="M815.68,755.7 L819.68,748.14 L811.68,748.14 Z" fill="#ffffff" stroke="#0000ff" stroke-width="1"/>
<path d="M823.85,755.98 L827.85,748.42 L819.85,748.42 Z" fill="#ffffff" stroke="#0000ff" stroke-width="1"/>
<path d="M832.02,756.26 L836.02,748.7 L828.02,748.7 Z" fill="#ffffff" stroke="#0000ff" stroke-width="1"/>
<path d="M840.19,756.55 L844.19,748.99 L836.19,748.99 Z" fill="#ffffff" stroke="#0000ff" stroke-width="1"/>
<path d="M848.36,756.66 L852.36,749.1 L844.36,749.1 Z" fill="#ffffff" stroke="#0000ff" stroke-width="1"/>
<path d="M856.53,756.77 L860.53,749.21 L852.53,749.21 Z" fill="#ffffff" stroke="#0000ff" stroke-width="1"/>
<path d="M864.7,756.87 L868.7,749.31 L860.7,749.31 Z" fill="#ffffff" stroke="#0000ff" stroke-width="1"/>
<path d="M872.87,756.97 L876.87,749.41 L868.87,749.41 Z" fill="#ffffff" stroke="#0000ff" stroke-width="1"/>
<path d="M881.04,757.08 L885.04,749.52 L877.04,749.52 Z" fill="#ffffff" stroke="#0000ff" stroke-width="1"/>
<path d="M889.21,757.18 L893.21,749.62 L885.21,749.62 Z" fill="#ffffff" stroke="#0000ff" stroke-width="1"/>
<path d="M897.38,757.28 L901.38,749.72 L893.38,749.72 Z" fill="#ffffff" stroke="#0000ff" stroke-width="1"/>
<path d="M905.55,757.33 L909.55,749.77 L901.55,749.77 Z" fill="#ffffff" stroke="#0000ff" stroke-width="1"/>
<path d="M913.72,757.35 L917.72,749.79 L909.72,749.79 Z" fill="#ffffff" stroke="#0000ff" stroke-width="1"/>
<path d="M921.89,757.37 L925.89,749.81 L917.89,749.81 Z" fill="#ffffff" stroke="#0000ff" stroke-width="1"/>
<path d="M930.06,757.39 L934.06,749.83 L926.06,749.83 Z" fill="#ffffff" stroke="#0000ff" stroke-width="1"/>
<path d="M938.23,757.42 L942.23,749.86 L934.23,749.86 Z" fill="#ffffff" stroke="#0000ff" stroke-width="1"/>
<path d="M946.4,757.44 L950.4,749.88 L942.4,749.88 Z" fill="#ffffff" stroke="#0000ff" stroke-width="1"/>
<path d="M954.57,757.46 L958.57,749.9 L950.57,749.9 Z" fill="#ffffff" stroke="#0000ff" stroke-width="1"/>
<path d="M962.74,757.49 L966.74,749.93 L958.74,749.93 Z" fill="#ffffff" stroke="#0000ff" stroke-width="1"/>
<path d="M970.91,757.51 L974.91,749.95 L966.91,749.95 Z" fill="#ffffff" stroke="#0000ff" stroke-width="1"/>
<path d="M979.08,757.53 L983.08,749.97 L975.08,749.97 Z" fill="#ffffff" stroke="#0000ff" stroke-width="1"/>
<path d="M987.25,757.55 L991.25,749.99 L983.25,749.99 Z" fill="#ffffff" stroke="#0000ff" stroke-width="1"/>
</g>
<rect x="606.0" y="421.0" width="322.0" height="260.0" fill="#fff"/>
<defs><clipPath id="clipDi"><rect x="606" y="421" width="322" height="260"/></clipPath></defs>
<g clip-path="url(#clipDi)">
<path d="M606.2,670.09 C608.88,669.84 618.15,669.5 622.28,668.58 C626.41,667.65 628.12,665.67 630.96,664.53 C633.8,663.39 636.48,661.83 639.32,661.75 C642.17,661.66 645.22,663.22 648.01,664.02 C650.8,664.82 650.37,665.96 656.05,666.55 C661.73,667.14 673.47,667.48 682.1,667.56 C690.73,667.65 699.2,667.4 707.83,667.06 C716.46,666.72 725.25,666.13 733.88,665.54 C742.5,664.95 751.13,664.53 759.6,663.52 C768.07,662.5 776.17,662.5 784.69,659.47 C793.21,656.43 804.04,650.61 810.74,645.3 C817.44,639.99 820.39,635.1 824.89,627.59 C829.39,620.08 833.46,610.64 837.75,600.27 C842.04,589.89 846.49,577.66 850.62,565.35 C854.74,553.04 858.23,540.05 862.52,526.39 C866.8,512.73 872.11,497.8 876.34,483.38 C880.58,468.96 884.97,450.49 887.92,439.86 C890.87,429.24 893.01,423 894.03,419.62" fill="none" stroke="#ff0000" stroke-width="2" stroke-linejoin="round" stroke-linecap="round" />
<path d="M606.2,670.09 C616.92,670.01 649.08,669.93 670.52,669.59 C691.96,669.25 718.76,668.66 734.84,668.07 C750.92,667.48 758.69,666.84 767,666.05 C775.31,665.25 779.33,664.66 784.69,663.31 C790.05,661.96 794.82,660.53 799.16,657.95 C803.5,655.37 806.45,653.31 810.74,647.83 C815.03,642.35 820.6,634.17 824.89,625.06 C829.18,615.95 832.18,606.25 836.47,593.18 C840.75,580.11 846.27,561.98 850.62,546.63 C854.96,531.28 858.23,517.96 862.52,501.09 C866.8,484.22 873.02,458.92 876.34,445.43 C879.67,431.94 881.44,424.35 882.45,420.13" fill="none" stroke="#00ff00" stroke-width="2" stroke-linejoin="round" stroke-linecap="round" />
<path d="M606.2,670.6 C610.33,670.26 622.66,669 630.96,668.58 C639.27,668.15 647.53,668.24 656.05,668.07 C664.57,667.9 673.47,667.9 682.1,667.56 C690.73,667.23 699.2,666.76 707.83,666.05 C716.46,665.33 725.25,664.11 733.88,663.26 C742.5,662.42 751.13,662.38 759.6,660.99 C768.07,659.59 776.17,658.29 784.69,654.91 C793.21,651.54 804.04,646.14 810.74,640.75 C817.44,635.35 820.39,629.28 824.89,622.53 C829.39,615.78 833.46,610.39 837.75,600.27 C842.04,590.15 846.33,574.97 850.62,561.81 C854.9,548.65 859.19,534.4 863.48,521.33 C867.77,508.26 872.27,496.11 876.34,483.38 C880.42,470.65 884.71,455.55 887.92,444.92 C891.14,434.3 894.35,423.84 895.64,419.62" fill="none" stroke="#0000ff" stroke-width="2" stroke-linejoin="round" stroke-linecap="round" />
<path d="M606.2,670.09 C611.56,670.05 629.78,669.97 638.36,669.84 C646.94,669.71 652.3,670.3 657.66,669.34 C663.02,668.37 666.23,664.11 670.52,664.02 C674.81,663.94 678.02,667.99 683.38,668.83 C688.74,669.67 694.1,669.17 702.68,669.08 C711.26,669 724.12,668.66 734.84,668.32 C745.56,667.99 756.28,667.94 767,667.06 C777.72,666.17 791.12,664.95 799.16,663.01 C807.2,661.07 809.88,659.64 815.24,655.42 C820.6,651.2 825.96,645.97 831.32,637.71 C836.68,629.45 842.04,617.64 847.4,605.83 C852.76,594.03 858.12,580.78 863.48,566.87 C868.84,552.96 874.2,537.18 879.56,522.34 C884.92,507.5 889.74,494.85 895.64,477.81 C901.54,460.78 911.72,429.74 914.94,420.13" fill="none" stroke="#ff0000" stroke-width="2" stroke-linejoin="round" stroke-linecap="round" />
<path d="M606.2,670.6 C611.56,670.6 627.64,670.64 638.36,670.6 C649.08,670.56 659.8,670.43 670.52,670.35 C681.24,670.26 691.96,670.3 702.68,670.09 C713.4,669.88 724.12,669.5 734.84,669.08 C745.56,668.66 756.28,669 767,667.56 C777.72,666.13 791.12,665.03 799.16,660.48 C807.2,655.93 809.88,650.61 815.24,640.24 C820.6,629.87 825.96,614.69 831.32,598.24 C836.68,581.8 842.04,562.06 847.4,541.57 C852.76,521.08 858.98,495.52 863.48,475.28 C867.98,455.04 872.59,429.32 874.41,420.13" fill="none" stroke="#00ff00" stroke-width="2" stroke-linejoin="round" stroke-linecap="round" />
<path d="M606.2,670.6 C611.56,670.6 627.64,670.6 638.36,670.6 C649.08,670.6 659.8,670.68 670.52,670.6 C681.24,670.52 691.96,670.26 702.68,670.09 C713.4,669.93 724.12,669.88 734.84,669.59 C745.56,669.29 756.28,668.91 767,668.32 C777.72,667.73 791.12,667.77 799.16,666.05 C807.2,664.32 809.88,663.31 815.24,657.95 C820.6,652.59 825.96,644.46 831.32,633.92 C836.68,623.37 842.04,609.16 847.4,594.7 C852.76,580.24 858.12,564 863.48,547.14 C868.84,530.27 874.2,512.56 879.56,493.5 C884.92,474.44 892.69,445.01 895.64,432.78 C898.59,420.55 896.98,422.24 897.25,420.13" fill="none" stroke="#0000ff" stroke-width="2" stroke-linejoin="round" stroke-linecap="round" />
<circle cx="606.2" cy="670.09" r="3.5" fill="#ffffff" stroke="#ff0000" stroke-width="1"/>
<circle cx="630.96" cy="664.53" r="3.5" fill="#ffffff" stroke="#ff0000" stroke-width="1"/>
<circle cx="656.05" cy="666.55" r="3.5" fill="#ffffff" stroke="#ff0000" stroke-width="1"/>
<circle cx="682.1" cy="667.56" r="3.5" fill="#ffffff" stroke="#ff0000" stroke-width="1"/>
<circle cx="707.83" cy="667.06" r="3.5" fill="#ffffff" stroke="#ff0000" stroke-width="1"/>
<circle cx="733.88" cy="665.54" r="3.5" fill="#ffffff" stroke="#ff0000" stroke-width="1"/>
<circle cx="759.6" cy="663.52" r="3.5" fill="#ffffff" stroke="#ff0000" stroke-width="1"/>
<circle cx="784.69" cy="659.47" r="3.5" fill="#ffffff" stroke="#ff0000" stroke-width="1"/>
<circle cx="810.74" cy="645.3" r="3.5" fill="#ffffff" stroke="#ff0000" stroke-width="1"/>
<circle cx="837.75" cy="600.27" r="3.5" fill="#ffffff" stroke="#ff0000" stroke-width="1"/>
<circle cx="862.52" cy="526.39" r="3.5" fill="#ffffff" stroke="#ff0000" stroke-width="1"/>
<circle cx="887.92" cy="439.86" r="3.5" fill="#ffffff" stroke="#ff0000" stroke-width="1"/>
<path d="M606.2,666.03 L609.7,672.72 L602.7,672.72 Z" fill="#ffffff" stroke="#00ff00" stroke-width="1"/>
<path d="M630.96,665.84 L634.46,672.53 L627.46,672.53 Z" fill="#ffffff" stroke="#00ff00" stroke-width="1"/>
<path d="M656.05,665.64 L659.55,672.33 L652.55,672.33 Z" fill="#ffffff" stroke="#00ff00" stroke-width="1"/>
<path d="M682.1,665.25 L685.6,671.94 L678.6,671.94 Z" fill="#ffffff" stroke="#00ff00" stroke-width="1"/>
<path d="M707.83,664.65 L711.33,671.34 L704.33,671.34 Z" fill="#ffffff" stroke="#00ff00" stroke-width="1"/>
<path d="M733.88,664.03 L737.38,670.72 L730.38,670.72 Z" fill="#ffffff" stroke="#00ff00" stroke-width="1"/>
<path d="M759.6,662.45 L763.1,669.14 L756.1,669.14 Z" fill="#ffffff" stroke="#00ff00" stroke-width="1"/>
<path d="M784.69,659.25 L788.19,665.94 L781.19,665.94 Z" fill="#ffffff" stroke="#00ff00" stroke-width="1"/>
<path d="M810.74,643.77 L814.24,650.46 L807.24,650.46 Z" fill="#ffffff" stroke="#00ff00" stroke-width="1"/>
<path d="M837.75,584.89 L841.25,591.58 L834.25,591.58 Z" fill="#ffffff" stroke="#00ff00" stroke-width="1"/>
<path d="M862.52,497.03 L866.02,503.72 L859.02,503.72 Z" fill="#ffffff" stroke="#00ff00" stroke-width="1"/>
<path d="M606.2,674.66 L609.7,667.97 L602.7,667.97 Z" fill="#ffffff" stroke="#0000ff" stroke-width="1"/>
<path d="M630.96,672.64 L634.46,665.95 L627.46,665.95 Z" fill="#ffffff" stroke="#0000ff" stroke-width="1"/>
<path d="M656.05,672.13 L659.55,665.44 L652.55,665.44 Z" fill="#ffffff" stroke="#0000ff" stroke-width="1"/>
<path d="M682.1,671.62 L685.6,664.93 L678.6,664.93 Z" fill="#ffffff" stroke="#0000ff" stroke-width="1"/>
<path d="M707.83,670.11 L711.33,663.42 L704.33,663.42 Z" fill="#ffffff" stroke="#0000ff" stroke-width="1"/>
<path d="M733.88,667.32 L737.38,660.63 L730.38,660.63 Z" fill="#ffffff" stroke="#0000ff" stroke-width="1"/>
<path d="M759.6,665.05 L763.1,658.36 L756.1,658.36 Z" fill="#ffffff" stroke="#0000ff" stroke-width="1"/>
<path d="M784.69,658.97 L788.19,652.28 L781.19,652.28 Z" fill="#ffffff" stroke="#0000ff" stroke-width="1"/>
<path d="M810.74,644.81 L814.24,638.12 L807.24,638.12 Z" fill="#ffffff" stroke="#0000ff" stroke-width="1"/>
<path d="M837.75,604.33 L841.25,597.64 L834.25,597.64 Z" fill="#ffffff" stroke="#0000ff" stroke-width="1"/>
<path d="M862.52,528.43 L866.02,521.74 L859.02,521.74 Z" fill="#ffffff" stroke="#0000ff" stroke-width="1"/>
<path d="M887.92,448.98 L891.42,442.29 L884.42,442.29 Z" fill="#ffffff" stroke="#0000ff" stroke-width="1"/>
<circle cx="638.36" cy="669.84" r="3.5" fill="#ff0000" stroke="#ff0000" stroke-width="1"/>
<circle cx="670.52" cy="664.02" r="3.5" fill="#ff0000" stroke="#ff0000" stroke-width="1"/>
<circle cx="702.68" cy="669.08" r="3.5" fill="#ff0000" stroke="#ff0000" stroke-width="1"/>
<circle cx="734.84" cy="668.32" r="3.5" fill="#ff0000" stroke="#ff0000" stroke-width="1"/>
<circle cx="767" cy="667.06" r="3.5" fill="#ff0000" stroke="#ff0000" stroke-width="1"/>
<circle cx="799.16" cy="663.01" r="3.5" fill="#ff0000" stroke="#ff0000" stroke-width="1"/>
<circle cx="831.32" cy="637.71" r="3.5" fill="#ff0000" stroke="#ff0000" stroke-width="1"/>
<circle cx="863.48" cy="566.87" r="3.5" fill="#ff0000" stroke="#ff0000" stroke-width="1"/>
<circle cx="895.64" cy="477.81" r="3.5" fill="#ff0000" stroke="#ff0000" stroke-width="1"/>
<path d="M638.36,666.54 L641.86,673.23 L634.86,673.23 Z" fill="#00ff00" stroke="#00ff00" stroke-width="1"/>
<path d="M670.52,666.29 L674.02,672.98 L667.02,672.98 Z" fill="#00ff00" stroke="#00ff00" stroke-width="1"/>
<path d="M702.68,666.03 L706.18,672.72 L699.18,672.72 Z" fill="#00ff00" stroke="#00ff00" stroke-width="1"/>
<path d="M734.84,665.02 L738.34,671.71 L731.34,671.71 Z" fill="#00ff00" stroke="#00ff00" stroke-width="1"/>
<path d="M767,663.5 L770.5,670.19 L763.5,670.19 Z" fill="#00ff00" stroke="#00ff00" stroke-width="1"/>
<path d="M799.16,656.42 L802.66,663.11 L795.66,663.11 Z" fill="#00ff00" stroke="#00ff00" stroke-width="1"/>
<path d="M831.32,594.18 L834.82,600.87 L827.82,600.87 Z" fill="#00ff00" stroke="#00ff00" stroke-width="1"/>
<path d="M863.48,471.22 L866.98,477.91 L859.98,477.91 Z" fill="#00ff00" stroke="#00ff00" stroke-width="1"/>
<path d="M638.36,674.66 L641.86,667.97 L634.86,667.97 Z" fill="#0000ff" stroke="#0000ff" stroke-width="1"/>
<path d="M670.52,674.66 L674.02,667.97 L667.02,667.97 Z" fill="#0000ff" stroke="#0000ff" stroke-width="1"/>
<path d="M702.68,674.15 L706.18,667.46 L699.18,667.46 Z" fill="#0000ff" stroke="#0000ff" stroke-width="1"/>
<path d="M734.84,673.65 L738.34,666.96 L731.34,666.96 Z" fill="#0000ff" stroke="#0000ff" stroke-width="1"/>
<path d="M767,672.38 L770.5,665.69 L763.5,665.69 Z" fill="#0000ff" stroke="#0000ff" stroke-width="1"/>
<path d="M799.16,670.11 L802.66,663.42 L795.66,663.42 Z" fill="#0000ff" stroke="#0000ff" stroke-width="1"/>
<path d="M831.32,637.98 L834.82,631.29 L827.82,631.29 Z" fill="#0000ff" stroke="#0000ff" stroke-width="1"/>
<path d="M863.48,551.2 L866.98,544.51 L859.98,544.51 Z" fill="#0000ff" stroke="#0000ff" stroke-width="1"/>
<path d="M895.64,436.84 L899.14,430.15 L892.14,430.15 Z" fill="#0000ff" stroke="#0000ff" stroke-width="1"/>
</g>
<rect x="608.4" y="425.4" width="178.6" height="102" fill="#fff" stroke="#999" stroke-width="1"/>
<line x1="610" y1="435" x2="641.4" y2="435" stroke="#ff0000" stroke-width="2" />
<circle cx="625.7" cy="435" r="3.5" fill="#ff0000" stroke="#ff0000" stroke-width="1"/>
<text x="644.4" y="439.42" font-family="'Liberation Serif','Times New Roman',serif" font-size="13.4" font-weight="normal" text-anchor="start" fill="#222" >Ce/Co/NC-after1000CVs</text>
<line x1="610" y1="451.7" x2="641.4" y2="451.7" stroke="#ff0000" stroke-width="2" />
<circle cx="625.7" cy="451.7" r="3.5" fill="#ffffff" stroke="#ff0000" stroke-width="1"/>
<text x="644.4" y="456.12" font-family="'Liberation Serif','Times New Roman',serif" font-size="13.4" font-weight="normal" text-anchor="start" fill="#222" >Ce/Co/NC-initial</text>
<line x1="610" y1="468.4" x2="641.4" y2="468.4" stroke="#00ff00" stroke-width="2" />
<path d="M625.7,464.34 L629.2,471.03 L622.2,471.03 Z" fill="#00ff00" stroke="#00ff00" stroke-width="1"/>
<text x="644.4" y="472.82" font-family="'Liberation Serif','Times New Roman',serif" font-size="13.4" font-weight="normal" text-anchor="start" fill="#222" >La/Co/NC-after1000CVs</text>
<line x1="610" y1="485.1" x2="641.4" y2="485.1" stroke="#00ff00" stroke-width="2" />
<path d="M625.7,481.04 L629.2,487.73 L622.2,487.73 Z" fill="#ffffff" stroke="#00ff00" stroke-width="1"/>
<text x="644.4" y="489.52" font-family="'Liberation Serif','Times New Roman',serif" font-size="13.4" font-weight="normal" text-anchor="start" fill="#222" >La/Co/NC-initial</text>
<line x1="610" y1="501.8" x2="641.4" y2="501.8" stroke="#0000ff" stroke-width="2" />
<path d="M625.7,505.86 L629.2,499.17 L622.2,499.17 Z" fill="#0000ff" stroke="#0000ff" stroke-width="1"/>
<text x="644.4" y="506.22" font-family="'Liberation Serif','Times New Roman',serif" font-size="13.4" font-weight="normal" text-anchor="start" fill="#222" >Nd/Co/NC-after1000CVs</text>
<line x1="610" y1="518.5" x2="641.4" y2="518.5" stroke="#0000ff" stroke-width="2" />
<path d="M625.7,522.56 L629.2,515.87 L622.2,515.87 Z" fill="#ffffff" stroke="#0000ff" stroke-width="1"/>
<text x="644.4" y="522.92" font-family="'Liberation Serif','Times New Roman',serif" font-size="13.4" font-weight="normal" text-anchor="start" fill="#222" >Nd/Co/NC-initial</text>
<line x1="606" y1="421" x2="606" y2="682" stroke="#000" stroke-width="1.8" />
<line x1="605" y1="681" x2="928" y2="681" stroke="#000" stroke-width="1.8" />
<line x1="928" y1="421" x2="928" y2="655" stroke="#000" stroke-width="1.8" />
<line x1="606" y1="670.6" x2="602" y2="670.6" stroke="#000" stroke-width="1.5" />
<line x1="606" y1="620" x2="602" y2="620" stroke="#000" stroke-width="1.5" />
<line x1="606" y1="569.4" x2="602" y2="569.4" stroke="#000" stroke-width="1.5" />
<line x1="606" y1="518.8" x2="602" y2="518.8" stroke="#000" stroke-width="1.5" />
<line x1="606" y1="468.2" x2="602" y2="468.2" stroke="#000" stroke-width="1.5" />
<line x1="606" y1="645.3" x2="603.5" y2="645.3" stroke="#000" stroke-width="1.5" />
<line x1="606" y1="594.7" x2="603.5" y2="594.7" stroke="#000" stroke-width="1.5" />
<line x1="606" y1="544.1" x2="603.5" y2="544.1" stroke="#000" stroke-width="1.5" />
<line x1="606" y1="493.5" x2="603.5" y2="493.5" stroke="#000" stroke-width="1.5" />
<line x1="606" y1="442.9" x2="603.5" y2="442.9" stroke="#000" stroke-width="1.5" />
<line x1="606.2" y1="681" x2="606.2" y2="685" stroke="#000" stroke-width="1.5" />
<line x1="686.6" y1="681" x2="686.6" y2="685" stroke="#000" stroke-width="1.5" />
<line x1="767" y1="681" x2="767" y2="685" stroke="#000" stroke-width="1.5" />
<line x1="847.4" y1="681" x2="847.4" y2="685" stroke="#000" stroke-width="1.5" />
<line x1="646.4" y1="681" x2="646.4" y2="683.5" stroke="#000" stroke-width="1.5" />
<line x1="726.8" y1="681" x2="726.8" y2="683.5" stroke="#000" stroke-width="1.5" />
<line x1="807.2" y1="681" x2="807.2" y2="683.5" stroke="#000" stroke-width="1.5" />
<line x1="887.6" y1="681" x2="887.6" y2="683.5" stroke="#000" stroke-width="1.5" />
<text x="597" y="675.6" font-family="'Liberation Serif','Times New Roman',serif" font-size="14.5" font-weight="bold" text-anchor="end" fill="#000" >0</text>
<text x="597" y="625" font-family="'Liberation Serif','Times New Roman',serif" font-size="14.5" font-weight="bold" text-anchor="end" fill="#000" >10</text>
<text x="597" y="574.4" font-family="'Liberation Serif','Times New Roman',serif" font-size="14.5" font-weight="bold" text-anchor="end" fill="#000" >20</text>
<text x="597" y="523.8" font-family="'Liberation Serif','Times New Roman',serif" font-size="14.5" font-weight="bold" text-anchor="end" fill="#000" >30</text>
<text x="597" y="473.2" font-family="'Liberation Serif','Times New Roman',serif" font-size="14.5" font-weight="bold" text-anchor="end" fill="#000" >40</text>
<text x="606.2" y="700.5" font-family="'Liberation Serif','Times New Roman',serif" font-size="15" font-weight="bold" text-anchor="middle" fill="#000" >1.00</text>
<text x="686.6" y="700.5" font-family="'Liberation Serif','Times New Roman',serif" font-size="15" font-weight="bold" text-anchor="middle" fill="#000" >1.25</text>
<text x="767" y="700.5" font-family="'Liberation Serif','Times New Roman',serif" font-size="15" font-weight="bold" text-anchor="middle" fill="#000" >1.50</text>
<text x="847.4" y="700.5" font-family="'Liberation Serif','Times New Roman',serif" font-size="15" font-weight="bold" text-anchor="middle" fill="#000" >1.75</text>
<text x="845" y="715.5" font-family="'Liberation Serif','Times New Roman',serif" font-size="17" font-weight="bold" text-anchor="end" fill="#000" >Potential (V vs. RHE)</text>
<text transform="translate(578.6,550.6) rotate(-90)" font-family="'Liberation Serif','Times New Roman',serif" font-size="17.4" font-weight="bold" text-anchor="middle" fill="#000">Current (mA/cm<tspan baseline-shift="super" font-size="11.5">2</tspan>)</text>
<rect x="867.5" y="655" width="114.5" height="63" fill="#fff" stroke="#888" stroke-width="1"/>
<line x1="869.5" y1="667.5" x2="907" y2="667.5" stroke="#ff0000" stroke-width="2" />
<circle cx="888.25" cy="667.5" r="5" fill="#ffffff" stroke="#ff0000" stroke-width="1"/>
<text x="910" y="672.85" font-family="'Liberation Serif','Times New Roman',serif" font-size="16.2" font-weight="normal" text-anchor="start" fill="#222" >Ce/Co/NC</text>
<line x1="869.5" y1="687.5" x2="907" y2="687.5" stroke="#00ff00" stroke-width="2" />
<path d="M888.25,681.7 L893.25,691 L883.25,691 Z" fill="#ffffff" stroke="#00ff00" stroke-width="1"/>
<text x="910" y="692.85" font-family="'Liberation Serif','Times New Roman',serif" font-size="16.2" font-weight="normal" text-anchor="start" fill="#222" >La/Co/NC</text>
<line x1="869.5" y1="707.5" x2="907" y2="707.5" stroke="#0000ff" stroke-width="2" />
<path d="M888.25,713.3 L893.25,704 L883.25,704 Z" fill="#ffffff" stroke="#0000ff" stroke-width="1"/>
<text x="910" y="712.85" font-family="'Liberation Serif','Times New Roman',serif" font-size="16.2" font-weight="normal" text-anchor="start" fill="#222" >Nd/Co/NC</text>
<rect x="562.4" y="420.7" width="424.6" height="344.9" fill="none" stroke="#000" stroke-width="2.3"/>
<line x1="562.4" y1="766.5" x2="555.9" y2="766.5" stroke="#000" stroke-width="2.2" />
<line x1="562.4" y1="741.8" x2="555.9" y2="741.8" stroke="#000" stroke-width="2.2" />
<line x1="562.4" y1="717.1" x2="555.9" y2="717.1" stroke="#000" stroke-width="2.2" />
<line x1="562.4" y1="692.4" x2="555.9" y2="692.4" stroke="#000" stroke-width="2.2" />
<line x1="562.4" y1="667.7" x2="555.9" y2="667.7" stroke="#000" stroke-width="2.2" />
<line x1="562.4" y1="643" x2="555.9" y2="643" stroke="#000" stroke-width="2.2" />
<line x1="562.4" y1="618.3" x2="555.9" y2="618.3" stroke="#000" stroke-width="2.2" />
<line x1="562.4" y1="593.6" x2="555.9" y2="593.6" stroke="#000" stroke-width="2.2" />
<line x1="562.4" y1="568.9" x2="555.9" y2="568.9" stroke="#000" stroke-width="2.2" />
<line x1="562.4" y1="544.2" x2="555.9" y2="544.2" stroke="#000" stroke-width="2.2" />
<line x1="562.4" y1="519.5" x2="555.9" y2="519.5" stroke="#000" stroke-width="2.2" />
<line x1="562.4" y1="494.8" x2="555.9" y2="494.8" stroke="#000" stroke-width="2.2" />
<line x1="562.4" y1="470.1" x2="555.9" y2="470.1" stroke="#000" stroke-width="2.2" />
<line x1="562.4" y1="445.4" x2="555.9" y2="445.4" stroke="#000" stroke-width="2.2" />
<line x1="562.4" y1="420.7" x2="555.9" y2="420.7" stroke="#000" stroke-width="2.2" />
<line x1="562.4" y1="754.15" x2="558.9" y2="754.15" stroke="#000" stroke-width="2.2" />
<line x1="562.4" y1="729.45" x2="558.9" y2="729.45" stroke="#000" stroke-width="2.2" />
<line x1="562.4" y1="704.75" x2="558.9" y2="704.75" stroke="#000" stroke-width="2.2" />
<line x1="562.4" y1="680.05" x2="558.9" y2="680.05" stroke="#000" stroke-width="2.2" />
<line x1="562.4" y1="655.35" x2="558.9" y2="655.35" stroke="#000" stroke-width="2.2" />
<line x1="562.4" y1="630.65" x2="558.9" y2="630.65" stroke="#000" stroke-width="2.2" />
<line x1="562.4" y1="605.95" x2="558.9" y2="605.95" stroke="#000" stroke-width="2.2" />
<line x1="562.4" y1="581.25" x2="558.9" y2="581.25" stroke="#000" stroke-width="2.2" />
<line x1="562.4" y1="556.55" x2="558.9" y2="556.55" stroke="#000" stroke-width="2.2" />
<line x1="562.4" y1="531.85" x2="558.9" y2="531.85" stroke="#000" stroke-width="2.2" />
<line x1="562.4" y1="507.15" x2="558.9" y2="507.15" stroke="#000" stroke-width="2.2" />
<line x1="562.4" y1="482.45" x2="558.9" y2="482.45" stroke="#000" stroke-width="2.2" />
<line x1="562.4" y1="457.75" x2="558.9" y2="457.75" stroke="#000" stroke-width="2.2" />
<line x1="562.4" y1="433.05" x2="558.9" y2="433.05" stroke="#000" stroke-width="2.2" />
<line x1="606.35" y1="765.6" x2="606.35" y2="771.6" stroke="#000" stroke-width="2.2" />
<line x1="664.95" y1="765.6" x2="664.95" y2="771.6" stroke="#000" stroke-width="2.2" />
<line x1="723.55" y1="765.6" x2="723.55" y2="771.6" stroke="#000" stroke-width="2.2" />
<line x1="782.15" y1="765.6" x2="782.15" y2="771.6" stroke="#000" stroke-width="2.2" />
<line x1="840.75" y1="765.6" x2="840.75" y2="771.6" stroke="#000" stroke-width="2.2" />
<line x1="899.35" y1="765.6" x2="899.35" y2="771.6" stroke="#000" stroke-width="2.2" />
<line x1="957.95" y1="765.6" x2="957.95" y2="771.6" stroke="#000" stroke-width="2.2" />
<line x1="577.05" y1="765.6" x2="577.05" y2="768.6" stroke="#000" stroke-width="2.2" />
<line x1="635.65" y1="765.6" x2="635.65" y2="768.6" stroke="#000" stroke-width="2.2" />
<line x1="694.25" y1="765.6" x2="694.25" y2="768.6" stroke="#000" stroke-width="2.2" />
<line x1="752.85" y1="765.6" x2="752.85" y2="768.6" stroke="#000" stroke-width="2.2" />
<line x1="811.45" y1="765.6" x2="811.45" y2="768.6" stroke="#000" stroke-width="2.2" />
<line x1="870.05" y1="765.6" x2="870.05" y2="768.6" stroke="#000" stroke-width="2.2" />
<line x1="928.65" y1="765.6" x2="928.65" y2="768.6" stroke="#000" stroke-width="2.2" />
<line x1="987.25" y1="765.6" x2="987.25" y2="768.6" stroke="#000" stroke-width="2.2" />
<text x="550" y="772.5" font-family="'Liberation Serif','Times New Roman',serif" font-size="19" font-weight="bold" text-anchor="end" fill="#000" >0</text>
<text x="550" y="747.8" font-family="'Liberation Serif','Times New Roman',serif" font-size="19" font-weight="bold" text-anchor="end" fill="#000" >5</text>
<text x="550" y="723.1" font-family="'Liberation Serif','Times New Roman',serif" font-size="19" font-weight="bold" text-anchor="end" fill="#000" >10</text>
<text x="550" y="698.4" font-family="'Liberation Serif','Times New Roman',serif" font-size="19" font-weight="bold" text-anchor="end" fill="#000" >15</text>
<text x="550" y="673.7" font-family="'Liberation Serif','Times New Roman',serif" font-size="19" font-weight="bold" text-anchor="end" fill="#000" >20</text>
<text x="550" y="649" font-family="'Liberation Serif','Times New Roman',serif" font-size="19" font-weight="bold" text-anchor="end" fill="#000" >25</text>
<text x="550" y="624.3" font-family="'Liberation Serif','Times New Roman',serif" font-size="19" font-weight="bold" text-anchor="end" fill="#000" >30</text>
<text x="550" y="599.6" font-family="'Liberation Serif','Times New Roman',serif" font-size="19" font-weight="bold" text-anchor="end" fill="#000" >35</text>
<text x="550" y="574.9" font-family="'Liberation Serif','Times New Roman',serif" font-size="19" font-weight="bold" text-anchor="end" fill="#000" >40</text>
<text x="550" y="550.2" font-family="'Liberation Serif','Times New Roman',serif" font-size="19" font-weight="bold" text-anchor="end" fill="#000" >45</text>
<text x="550" y="525.5" font-family="'Liberation Serif','Times New Roman',serif" font-size="19" font-weight="bold" text-anchor="end" fill="#000" >50</text>
<text x="550" y="500.8" font-family="'Liberation Serif','Times New Roman',serif" font-size="19" font-weight="bold" text-anchor="end" fill="#000" >55</text>
<text x="550" y="476.1" font-family="'Liberation Serif','Times New Roman',serif" font-size="19" font-weight="bold" text-anchor="end" fill="#000" >60</text>
<text x="550" y="451.4" font-family="'Liberation Serif','Times New Roman',serif" font-size="19" font-weight="bold" text-anchor="end" fill="#000" >65</text>
<text x="550" y="426.7" font-family="'Liberation Serif','Times New Roman',serif" font-size="19" font-weight="bold" text-anchor="end" fill="#000" >70</text>
<text x="606.35" y="793" font-family="'Liberation Serif','Times New Roman',serif" font-size="19" font-weight="bold" text-anchor="middle" fill="#000" >2</text>
<text x="664.95" y="793" font-family="'Liberation Serif','Times New Roman',serif" font-size="19" font-weight="bold" text-anchor="middle" fill="#000" >4</text>
<text x="723.55" y="793" font-family="'Liberation Serif','Times New Roman',serif" font-size="19" font-weight="bold" text-anchor="middle" fill="#000" >6</text>
<text x="782.15" y="793" font-family="'Liberation Serif','Times New Roman',serif" font-size="19" font-weight="bold" text-anchor="middle" fill="#000" >8</text>
<text x="840.75" y="793" font-family="'Liberation Serif','Times New Roman',serif" font-size="19" font-weight="bold" text-anchor="middle" fill="#000" >10</text>
<text x="899.35" y="793" font-family="'Liberation Serif','Times New Roman',serif" font-size="19" font-weight="bold" text-anchor="middle" fill="#000" >12</text>
<text x="957.95" y="793" font-family="'Liberation Serif','Times New Roman',serif" font-size="19" font-weight="bold" text-anchor="middle" fill="#000" >14</text>
<text x="774.7" y="812" font-family="'Liberation Serif','Times New Roman',serif" font-size="23" font-weight="bold" text-anchor="middle" fill="#000" >Time (h)</text>
<text transform="translate(527,592) rotate(-90)" font-family="'Liberation Serif','Times New Roman',serif" font-size="23" font-weight="bold" text-anchor="middle" fill="#000">Current (mA/cm<tspan baseline-shift="super" font-size="15">2</tspan>)</text>
<text x="491.9" y="440.9" font-family="'Liberation Serif','Times New Roman',serif" font-size="26.2" font-weight="bold" text-anchor="start" fill="#000" >(D)</text>
</svg>
</body></html>
